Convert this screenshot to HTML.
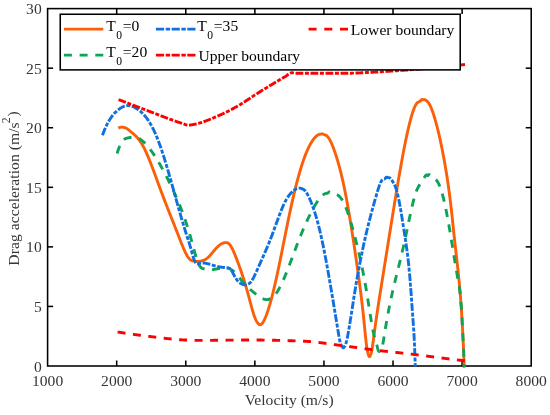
<!DOCTYPE html>
<html><head><meta charset="utf-8"><title>Drag acceleration vs velocity</title>
<style>
html,body{margin:0;padding:0;background:#fff;}
svg{display:block;font-family:"Liberation Serif","Times New Roman",serif;font-size:15.6px;}
</style></head>
<body>
<svg width="550" height="415" viewBox="0 0 550 415">
<rect width="550" height="415" fill="#fff"/>
<rect x="47.6" y="8.6" width="483.6" height="357.4" fill="none" stroke="#000" stroke-width="1.55"/>
<g stroke="#000" stroke-width="1.55">
<line x1="116.69" y1="366.0" x2="116.69" y2="360.5"/>
<line x1="116.69" y1="8.6" x2="116.69" y2="14.1"/>
<line x1="185.77" y1="366.0" x2="185.77" y2="360.5"/>
<line x1="185.77" y1="8.6" x2="185.77" y2="14.1"/>
<line x1="254.86" y1="366.0" x2="254.86" y2="360.5"/>
<line x1="254.86" y1="8.6" x2="254.86" y2="14.1"/>
<line x1="323.94" y1="366.0" x2="323.94" y2="360.5"/>
<line x1="323.94" y1="8.6" x2="323.94" y2="14.1"/>
<line x1="393.03" y1="366.0" x2="393.03" y2="360.5"/>
<line x1="393.03" y1="8.6" x2="393.03" y2="14.1"/>
<line x1="462.11" y1="366.0" x2="462.11" y2="360.5"/>
<line x1="462.11" y1="8.6" x2="462.11" y2="14.1"/>
<line x1="47.6" y1="306.43" x2="53.1" y2="306.43"/>
<line x1="531.2" y1="306.43" x2="525.7" y2="306.43"/>
<line x1="47.6" y1="246.87" x2="53.1" y2="246.87"/>
<line x1="531.2" y1="246.87" x2="525.7" y2="246.87"/>
<line x1="47.6" y1="187.30" x2="53.1" y2="187.30"/>
<line x1="531.2" y1="187.30" x2="525.7" y2="187.30"/>
<line x1="47.6" y1="127.73" x2="53.1" y2="127.73"/>
<line x1="531.2" y1="127.73" x2="525.7" y2="127.73"/>
<line x1="47.6" y1="68.17" x2="53.1" y2="68.17"/>
<line x1="531.2" y1="68.17" x2="525.7" y2="68.17"/>
</g>
<g>
<path d="M118.40,128.19 L118.78,127.96 L119.17,127.75 L119.55,127.56 L119.94,127.41 L120.32,127.28 L120.71,127.19 L121.09,127.14 L121.48,127.11 L121.86,127.09 L122.25,127.08 L122.63,127.09 L123.02,127.12 L123.40,127.22 L123.79,127.38 L124.17,127.54 L124.55,127.66 L124.94,127.75 L125.32,127.84 L125.71,127.96 L126.09,128.13 L126.48,128.34 L126.86,128.59 L127.25,128.86 L127.63,129.16 L128.02,129.46 L128.40,129.77 L128.79,130.07 L129.17,130.38 L129.55,130.68 L129.94,130.98 L130.32,131.29 L130.71,131.59 L131.09,131.90 L131.48,132.20 L131.86,132.52 L132.25,132.83 L132.63,133.15 L133.02,133.48 L133.40,133.81 L133.79,134.15 L134.17,134.49 L134.56,134.85 L134.94,135.21 L135.32,135.58 L135.71,135.96 L136.09,136.35 L136.48,136.76 L136.86,137.17 L137.25,137.60 L137.63,138.04 L138.02,138.50 L138.40,138.97 L138.79,139.45 L139.17,139.95 L139.56,140.47 L139.94,141.01 L140.33,141.56 L140.71,142.13 L141.09,142.72 L141.48,143.34 L141.86,143.97 L142.25,144.62 L142.63,145.30 L143.02,145.99 L143.40,146.70 L143.79,147.43 L144.17,148.18 L144.56,148.95 L144.94,149.74 L145.33,150.54 L145.71,151.36 L146.09,152.19 L146.48,153.04 L146.86,153.90 L147.25,154.78 L147.63,155.67 L148.02,156.57 L148.40,157.49 L148.79,158.42 L149.17,159.36 L149.56,160.31 L149.94,161.27 L150.33,162.24 L150.71,163.22 L151.10,164.21 L151.48,165.21 L151.86,166.21 L152.25,167.22 L152.63,168.24 L153.02,169.27 L153.40,170.30 L153.79,171.33 L154.17,172.37 L154.56,173.41 L154.94,174.46 L155.33,175.51 L155.71,176.56 L156.10,177.62 L156.48,178.67 L156.86,179.73 L157.25,180.79 L157.63,181.84 L158.02,182.90 L158.40,183.95 L158.79,185.01 L159.17,186.06 L159.56,187.10 L159.94,188.15 L160.33,189.19 L160.71,190.22 L161.10,191.25 L161.48,192.28 L161.87,193.30 L162.25,194.32 L162.63,195.34 L163.02,196.35 L163.40,197.36 L163.79,198.36 L164.17,199.37 L164.56,200.36 L164.94,201.36 L165.33,202.35 L165.71,203.35 L166.10,204.33 L166.48,205.32 L166.87,206.31 L167.25,207.29 L167.64,208.27 L168.02,209.25 L168.40,210.22 L168.79,211.20 L169.17,212.17 L169.56,213.15 L169.94,214.12 L170.33,215.09 L170.71,216.06 L171.10,217.03 L171.48,218.00 L171.87,218.97 L172.25,219.94 L172.64,220.91 L173.02,221.88 L173.40,222.85 L173.79,223.82 L174.17,224.79 L174.56,225.76 L174.94,226.73 L175.33,227.71 L175.71,228.68 L176.10,229.65 L176.48,230.63 L176.87,231.61 L177.25,232.59 L177.64,233.57 L178.02,234.55 L178.41,235.54 L178.79,236.53 L179.17,237.52 L179.56,238.51 L179.94,239.50 L180.33,240.49 L180.71,241.47 L181.10,242.44 L181.48,243.41 L181.87,244.37 L182.25,245.32 L182.64,246.26 L183.02,247.18 L183.41,248.09 L183.79,248.97 L184.18,249.84 L184.56,250.69 L184.94,251.52 L185.33,252.32 L185.71,253.09 L186.10,253.84 L186.48,254.56 L186.87,255.25 L187.25,255.90 L187.64,256.52 L188.02,257.11 L188.41,257.66 L188.79,258.17 L189.18,258.63 L189.56,259.06 L189.94,259.44 L190.33,259.77 L190.71,260.06 L191.10,260.30 L191.48,260.49 L191.87,260.62 L192.25,260.70 L192.64,260.73 L193.02,260.73 L193.41,260.71 L193.79,260.70 L194.18,260.72 L194.56,260.81 L194.95,260.97 L195.33,261.20 L195.71,261.43 L196.10,261.59 L196.48,261.62 L196.87,261.53 L197.25,261.43 L197.64,261.41 L198.02,261.45 L198.41,261.49 L198.79,261.49 L199.18,261.46 L199.56,261.41 L199.95,261.34 L200.33,261.26 L200.72,261.16 L201.10,261.06 L201.48,260.95 L201.87,260.84 L202.25,260.72 L202.64,260.59 L203.02,260.46 L203.41,260.32 L203.79,260.17 L204.18,260.01 L204.56,259.84 L204.95,259.65 L205.33,259.44 L205.72,259.22 L206.10,258.98 L206.48,258.71 L206.87,258.42 L207.25,258.12 L207.64,257.79 L208.02,257.44 L208.41,257.08 L208.79,256.70 L209.18,256.31 L209.56,255.91 L209.95,255.49 L210.33,255.06 L210.72,254.63 L211.10,254.19 L211.49,253.74 L211.87,253.28 L212.25,252.83 L212.64,252.37 L213.02,251.91 L213.41,251.45 L213.79,250.99 L214.18,250.54 L214.56,250.09 L214.95,249.64 L215.33,249.21 L215.72,248.78 L216.10,248.36 L216.49,247.95 L216.87,247.55 L217.25,247.17 L217.64,246.79 L218.02,246.43 L218.41,246.08 L218.79,245.75 L219.18,245.43 L219.56,245.13 L219.95,244.84 L220.33,244.57 L220.72,244.32 L221.10,244.08 L221.49,243.86 L221.87,243.65 L222.26,243.47 L222.64,243.29 L223.02,243.14 L223.41,242.99 L223.79,242.86 L224.18,242.76 L224.56,242.68 L224.95,242.63 L225.33,242.61 L225.72,242.59 L226.10,242.58 L226.49,242.59 L226.87,242.64 L227.26,242.74 L227.64,242.89 L228.03,243.09 L228.41,243.35 L228.79,243.66 L229.18,244.02 L229.56,244.44 L229.95,244.91 L230.33,245.43 L230.72,246.00 L231.10,246.61 L231.49,247.27 L231.87,247.97 L232.26,248.71 L232.64,249.49 L233.03,250.30 L233.41,251.13 L233.79,252.00 L234.18,252.89 L234.56,253.81 L234.95,254.74 L235.33,255.69 L235.72,256.66 L236.10,257.64 L236.49,258.63 L236.87,259.63 L237.26,260.64 L237.64,261.66 L238.03,262.69 L238.41,263.72 L238.80,264.77 L239.18,265.83 L239.56,266.90 L239.95,267.98 L240.33,269.07 L240.72,270.18 L241.10,271.29 L241.49,272.42 L241.87,273.57 L242.26,274.72 L242.64,275.89 L243.03,277.07 L243.41,278.27 L243.80,279.48 L244.18,280.71 L244.57,281.95 L244.95,283.21 L245.33,284.48 L245.72,285.77 L246.10,287.08 L246.49,288.40 L246.87,289.74 L247.26,291.09 L247.64,292.47 L248.03,293.86 L248.41,295.27 L248.80,296.70 L249.18,298.14 L249.57,299.59 L249.95,301.05 L250.33,302.50 L250.72,303.95 L251.10,305.38 L251.49,306.80 L251.87,308.19 L252.26,309.55 L252.64,310.88 L253.03,312.17 L253.41,313.41 L253.80,314.60 L254.18,315.74 L254.57,316.81 L254.95,317.82 L255.34,318.75 L255.72,319.61 L256.10,320.39 L256.49,321.12 L256.87,321.78 L257.26,322.38 L257.64,322.94 L258.03,323.45 L258.41,323.90 L258.80,324.28 L259.18,324.55 L259.57,324.69 L259.95,324.72 L260.34,324.67 L260.72,324.56 L261.11,324.38 L261.49,324.12 L261.87,323.77 L262.26,323.34 L262.64,322.83 L263.03,322.26 L263.41,321.62 L263.80,320.93 L264.18,320.18 L264.57,319.38 L264.95,318.53 L265.34,317.64 L265.72,316.71 L266.11,315.74 L266.49,314.73 L266.87,313.69 L267.26,312.61 L267.64,311.49 L268.03,310.34 L268.41,309.16 L268.80,307.94 L269.18,306.69 L269.57,305.41 L269.95,304.09 L270.34,302.75 L270.72,301.37 L271.11,299.96 L271.49,298.53 L271.88,297.07 L272.26,295.58 L272.64,294.06 L273.03,292.52 L273.41,290.96 L273.80,289.36 L274.18,287.75 L274.57,286.11 L274.95,284.45 L275.34,282.77 L275.72,281.06 L276.11,279.34 L276.49,277.60 L276.88,275.84 L277.26,274.06 L277.64,272.26 L278.03,270.45 L278.41,268.63 L278.80,266.79 L279.18,264.94 L279.57,263.07 L279.95,261.20 L280.34,259.32 L280.72,257.43 L281.11,255.53 L281.49,253.62 L281.88,251.71 L282.26,249.79 L282.65,247.87 L283.03,245.95 L283.41,244.03 L283.80,242.10 L284.18,240.17 L284.57,238.25 L284.95,236.33 L285.34,234.41 L285.72,232.49 L286.11,230.58 L286.49,228.67 L286.88,226.77 L287.26,224.88 L287.65,223.00 L288.03,221.13 L288.42,219.26 L288.80,217.41 L289.18,215.57 L289.57,213.75 L289.95,211.94 L290.34,210.14 L290.72,208.37 L291.11,206.61 L291.49,204.86 L291.88,203.14 L292.26,201.43 L292.65,199.74 L293.03,198.07 L293.42,196.41 L293.80,194.78 L294.18,193.16 L294.57,191.56 L294.95,189.98 L295.34,188.42 L295.72,186.88 L296.11,185.36 L296.49,183.86 L296.88,182.38 L297.26,180.92 L297.65,179.48 L298.03,178.06 L298.42,176.66 L298.80,175.28 L299.19,173.92 L299.57,172.58 L299.95,171.26 L300.34,169.97 L300.72,168.69 L301.11,167.44 L301.49,166.21 L301.88,165.00 L302.26,163.81 L302.65,162.65 L303.03,161.50 L303.42,160.38 L303.80,159.28 L304.19,158.21 L304.57,157.16 L304.96,156.13 L305.34,155.12 L305.72,154.14 L306.11,153.18 L306.49,152.25 L306.88,151.33 L307.26,150.45 L307.65,149.58 L308.03,148.74 L308.42,147.92 L308.80,147.13 L309.19,146.36 L309.57,145.61 L309.96,144.88 L310.34,144.18 L310.72,143.50 L311.11,142.85 L311.49,142.21 L311.88,141.60 L312.26,141.01 L312.65,140.45 L313.03,139.90 L313.42,139.38 L313.80,138.88 L314.19,138.40 L314.57,137.95 L314.96,137.52 L315.34,137.11 L315.73,136.72 L316.11,136.35 L316.49,136.00 L316.88,135.68 L317.26,135.39 L317.65,135.12 L318.03,134.89 L318.42,134.69 L318.80,134.53 L319.19,134.41 L319.57,134.32 L319.96,134.25 L320.34,134.19 L320.73,134.13 L321.11,134.06 L321.49,133.96 L321.88,133.86 L322.26,133.85 L322.65,133.95 L323.03,134.12 L323.42,134.32 L323.80,134.51 L324.19,134.67 L324.57,134.79 L324.96,134.90 L325.34,135.03 L325.73,135.17 L326.11,135.35 L326.50,135.59 L326.88,135.89 L327.26,136.25 L327.65,136.66 L328.03,137.12 L328.42,137.63 L328.80,138.20 L329.19,138.81 L329.57,139.46 L329.96,140.16 L330.34,140.90 L330.73,141.68 L331.11,142.50 L331.50,143.35 L331.88,144.23 L332.27,145.15 L332.65,146.10 L333.03,147.07 L333.42,148.07 L333.80,149.09 L334.19,150.14 L334.57,151.21 L334.96,152.31 L335.34,153.44 L335.73,154.59 L336.11,155.77 L336.50,156.98 L336.88,158.21 L337.27,159.47 L337.65,160.76 L338.03,162.08 L338.42,163.43 L338.80,164.81 L339.19,166.22 L339.57,167.66 L339.96,169.12 L340.34,170.62 L340.73,172.15 L341.11,173.72 L341.50,175.31 L341.88,176.94 L342.27,178.60 L342.65,180.29 L343.04,182.01 L343.42,183.77 L343.80,185.56 L344.19,187.39 L344.57,189.25 L344.96,191.15 L345.34,193.09 L345.73,195.05 L346.11,197.06 L346.50,199.09 L346.88,201.16 L347.27,203.27 L347.65,205.40 L348.04,207.57 L348.42,209.76 L348.81,211.99 L349.19,214.25 L349.57,216.53 L349.96,218.84 L350.34,221.18 L350.73,223.54 L351.11,225.93 L351.50,228.34 L351.88,230.78 L352.27,233.24 L352.65,235.72 L353.04,238.23 L353.42,240.75 L353.81,243.30 L354.19,245.87 L354.57,248.45 L354.96,251.05 L355.34,253.67 L355.73,256.31 L356.11,258.96 L356.50,261.63 L356.88,264.31 L357.27,267.01 L357.65,269.72 L358.04,272.45 L358.42,275.20 L358.81,277.99 L359.19,280.81 L359.58,283.67 L359.96,286.58 L360.34,289.55 L360.73,292.56 L361.11,295.65 L361.50,298.80 L361.88,302.02 L362.27,305.33 L362.65,308.72 L363.04,312.20 L363.42,315.77 L363.81,319.45 L364.19,323.23 L364.58,327.11 L364.96,331.02 L365.35,334.86 L365.73,338.55 L366.11,341.99 L366.50,345.10 L366.88,347.80 L367.27,350.06 L367.65,351.95 L368.04,353.55 L368.42,354.92 L368.81,355.99 L369.19,356.61 L369.58,356.66 L369.96,356.24 L370.35,355.52 L370.73,354.56 L371.11,353.34 L371.50,351.82 L371.88,349.94 L372.27,347.74 L372.65,345.25 L373.04,342.56 L373.42,339.73 L373.81,336.81 L374.19,333.88 L374.58,330.99 L374.96,328.15 L375.35,325.35 L375.73,322.60 L376.12,319.88 L376.50,317.21 L376.88,314.57 L377.27,311.96 L377.65,309.38 L378.04,306.84 L378.42,304.31 L378.81,301.82 L379.19,299.34 L379.58,296.88 L379.96,294.44 L380.35,292.01 L380.73,289.59 L381.12,287.18 L381.50,284.78 L381.88,282.38 L382.27,279.98 L382.65,277.58 L383.04,275.18 L383.42,272.78 L383.81,270.37 L384.19,267.96 L384.58,265.55 L384.96,263.13 L385.35,260.72 L385.73,258.30 L386.12,255.88 L386.50,253.47 L386.89,251.05 L387.27,248.63 L387.65,246.21 L388.04,243.80 L388.42,241.38 L388.81,238.97 L389.19,236.56 L389.58,234.15 L389.96,231.74 L390.35,229.34 L390.73,226.93 L391.12,224.54 L391.50,222.14 L391.89,219.75 L392.27,217.36 L392.66,214.98 L393.04,212.61 L393.42,210.23 L393.81,207.87 L394.19,205.51 L394.58,203.16 L394.96,200.81 L395.35,198.47 L395.73,196.13 L396.12,193.81 L396.50,191.49 L396.89,189.18 L397.27,186.88 L397.66,184.59 L398.04,182.31 L398.42,180.05 L398.81,177.80 L399.19,175.56 L399.58,173.33 L399.96,171.12 L400.35,168.93 L400.73,166.75 L401.12,164.59 L401.50,162.45 L401.89,160.33 L402.27,158.23 L402.66,156.16 L403.04,154.10 L403.43,152.07 L403.81,150.06 L404.19,148.07 L404.58,146.11 L404.96,144.18 L405.35,142.27 L405.73,140.39 L406.12,138.54 L406.50,136.72 L406.89,134.93 L407.27,133.17 L407.66,131.44 L408.04,129.75 L408.43,128.09 L408.81,126.46 L409.20,124.87 L409.58,123.32 L409.96,121.80 L410.35,120.32 L410.73,118.88 L411.12,117.49 L411.50,116.14 L411.89,114.84 L412.27,113.59 L412.66,112.39 L413.04,111.25 L413.43,110.16 L413.81,109.13 L414.20,108.16 L414.58,107.25 L414.96,106.41 L415.35,105.63 L415.73,104.92 L416.12,104.28 L416.50,103.71 L416.89,103.22 L417.27,102.80 L417.66,102.46 L418.04,102.20 L418.43,102.01 L418.81,101.86 L419.20,101.72 L419.58,101.55 L419.97,101.32 L420.35,101.00 L420.73,100.57 L421.12,100.11 L421.50,99.72 L421.89,99.52 L422.27,99.56 L422.66,99.70 L423.04,99.75 L423.43,99.65 L423.81,99.54 L424.20,99.53 L424.58,99.65 L424.97,99.84 L425.35,100.07 L425.74,100.30 L426.12,100.54 L426.50,100.79 L426.89,101.06 L427.27,101.37 L427.66,101.74 L428.04,102.16 L428.43,102.65 L428.81,103.21 L429.20,103.83 L429.58,104.51 L429.97,105.25 L430.35,106.05 L430.74,106.89 L431.12,107.79 L431.50,108.74 L431.89,109.73 L432.27,110.77 L432.66,111.85 L433.04,112.96 L433.43,114.11 L433.81,115.29 L434.20,116.51 L434.58,117.77 L434.97,119.05 L435.35,120.37 L435.74,121.73 L436.12,123.12 L436.51,124.54 L436.89,126.00 L437.27,127.49 L437.66,129.01 L438.04,130.57 L438.43,132.16 L438.81,133.79 L439.20,135.45 L439.58,137.14 L439.97,138.87 L440.35,140.63 L440.74,142.42 L441.12,144.25 L441.51,146.11 L441.89,148.01 L442.27,149.94 L442.66,151.90 L443.04,153.90 L443.43,155.93 L443.81,157.99 L444.20,160.09 L444.58,162.22 L444.97,164.40 L445.35,166.63 L445.74,168.90 L446.12,171.22 L446.51,173.60 L446.89,176.04 L447.28,178.54 L447.66,181.11 L448.04,183.74 L448.43,186.44 L448.81,189.22 L449.20,192.08 L449.58,195.01 L449.97,198.03 L450.35,201.14 L450.74,204.34 L451.12,207.63 L451.51,211.02 L451.89,214.51 L452.28,218.11 L452.66,221.77 L453.05,225.48 L453.43,229.18 L453.81,232.84 L454.20,236.43 L454.58,239.94 L454.97,243.40 L455.35,246.81 L455.74,250.19 L456.12,253.56 L456.51,256.94 L456.89,260.34 L457.28,263.77 L457.66,267.26 L458.05,270.81 L458.20,272.26 L458.23,272.55 L458.26,272.83 L458.29,273.12 L458.32,273.41 L458.35,273.70 L458.38,273.98 L458.41,274.27 L458.43,274.46 L458.44,274.56 L458.47,274.85 L458.50,275.14 L458.53,275.44 L458.56,275.73 L458.59,276.02 L458.62,276.32 L458.65,276.61 L458.68,276.91 L458.71,277.21 L458.74,277.51 L458.77,277.81 L458.80,278.11 L458.81,278.22 L458.83,278.41 L458.86,278.71 L458.89,279.01 L458.92,279.32 L458.95,279.62 L458.98,279.93 L459.01,280.24 L459.04,280.55 L459.07,280.86 L459.10,281.17 L459.13,281.48 L459.16,281.79 L459.19,282.11 L459.20,282.15 L459.23,282.42 L459.26,282.74 L459.29,283.06 L459.32,283.38 L459.35,283.70 L459.38,284.02 L459.41,284.34 L459.44,284.67 L459.47,284.99 L459.50,285.32 L459.53,285.65 L459.56,285.98 L459.58,286.28 L459.59,286.31 L459.62,286.65 L459.65,286.98 L459.68,287.32 L459.71,287.66 L459.74,287.99 L459.77,288.34 L459.80,288.68 L459.83,289.02 L459.86,289.37 L459.89,289.71 L459.92,290.06 L459.95,290.41 L459.97,290.65 L459.98,290.77 L460.01,291.12 L460.04,291.48 L460.07,291.83 L460.10,292.19 L460.13,292.55 L460.16,292.92 L460.19,293.28 L460.22,293.65 L460.25,294.01 L460.28,294.38 L460.31,294.76 L460.34,295.13 L460.35,295.29 L460.37,295.51 L460.40,295.88 L460.43,296.26 L460.46,296.64 L460.49,297.03 L460.52,297.41 L460.55,297.80 L460.58,298.19 L460.61,298.58 L460.64,298.98 L460.67,299.37 L460.70,299.77 L460.73,300.17 L460.74,300.24 L460.76,300.57 L460.79,300.98 L460.82,301.38 L460.85,301.79 L460.88,302.20 L460.91,302.62 L460.94,303.03 L460.97,303.45 L461.00,303.87 L461.03,304.29 L461.06,304.71 L461.09,305.14 L461.12,305.55 L461.12,305.57 L461.15,306.00 L461.18,306.44 L461.22,306.87 L461.25,307.31 L461.28,307.75 L461.31,308.20 L461.34,308.64 L461.37,309.09 L461.40,309.54 L461.43,310.00 L461.46,310.46 L461.49,310.91 L461.51,311.24 L461.52,311.38 L461.55,311.84 L461.58,312.31 L461.61,312.78 L461.64,313.25 L461.67,313.72 L461.70,314.20 L461.73,314.68 L461.76,315.17 L461.79,315.65 L461.82,316.14 L461.85,316.64 L461.88,317.13 L461.89,317.36 L461.91,317.63 L461.94,318.13 L461.97,318.64 L462.00,319.14 L462.03,319.65 L462.06,320.17 L462.09,320.69 L462.12,321.21 L462.15,321.73 L462.18,322.26 L462.21,322.79 L462.24,323.32 L462.27,323.86 L462.28,323.97 L462.30,324.40 L462.33,324.95 L462.36,325.49 L462.39,326.04 L462.42,326.60 L462.45,327.16 L462.48,327.72 L462.51,328.29 L462.54,328.86 L462.57,329.43 L462.60,330.01 L462.63,330.59 L462.66,331.16 L462.66,331.17 L462.69,331.76 L462.72,332.36 L462.75,332.95 L462.78,333.55 L462.81,334.16 L462.84,334.77 L462.87,335.38 L462.90,336.00 L462.93,336.62 L462.96,337.25 L462.99,337.88 L463.02,338.51 L463.05,338.97 L463.05,339.15 L463.08,339.79 L463.11,340.44 L463.14,341.09 L463.17,341.75 L463.21,342.41 L463.24,343.07 L463.27,343.74 L463.30,344.42 L463.33,345.10 L463.36,345.78 L463.39,346.47 L463.42,347.16 L463.43,347.50 L463.45,347.86 L463.48,348.56 L463.51,349.26 L463.54,349.97 L463.57,350.68 L463.60,351.40 L463.63,352.12 L463.66,352.85 L463.69,353.57 L463.72,354.31 L463.75,355.04 L463.78,355.78 L463.81,356.52 L463.82,356.70 L463.84,357.27 L463.87,358.02 L463.90,358.77 L463.93,359.52 L463.96,360.28 L463.99,361.04 L464.02,361.81 L464.05,362.57 L464.08,363.34 L464.11,364.11 L464.14,364.89 L464.17,365.66 L464.20,366.44" stroke="#fb5f08" stroke-width="2.9" fill="none" stroke-linejoin="round"/>
<path d="M117.10,153.51 L117.49,152.21 L117.87,150.98 L118.26,149.82 L118.64,148.73 L119.03,147.69 L119.42,146.71 L119.80,145.79 L120.19,144.92 L120.57,144.11 L120.96,143.36 L121.35,142.68 L121.73,142.05 L122.12,141.49 L122.51,140.98 L122.89,140.52 L123.28,140.12 L123.66,139.76 L124.05,139.44 L124.44,139.16 L124.82,138.92 L125.21,138.72 L125.59,138.55 L125.98,138.40 L126.37,138.28 L126.75,138.17 L127.14,138.08 L127.52,138.00 L127.91,137.92 L128.30,137.84 L128.68,137.76 L129.07,137.68 L129.46,137.61 L129.84,137.54 L130.23,137.49 L130.61,137.44 L131.00,137.41 L131.39,137.38 L131.77,137.35 L132.16,137.32 L132.54,137.28 L132.93,137.27 L133.32,137.29 L133.70,137.35 L134.09,137.40 L134.47,137.43 L134.86,137.42 L135.25,137.42 L135.63,137.42 L136.02,137.46 L136.40,137.53 L136.79,137.63 L137.18,137.75 L137.56,137.90 L137.95,138.06 L138.34,138.23 L138.72,138.42 L139.11,138.63 L139.49,138.84 L139.88,139.07 L140.27,139.31 L140.65,139.57 L141.04,139.84 L141.42,140.12 L141.81,140.41 L142.20,140.71 L142.58,141.03 L142.97,141.36 L143.35,141.70 L143.74,142.05 L144.13,142.41 L144.51,142.78 L144.90,143.16 L145.28,143.56 L145.67,143.96 L146.06,144.37 L146.44,144.80 L146.83,145.23 L147.22,145.67 L147.60,146.12 L147.99,146.58 L148.37,147.05 L148.76,147.53 L149.15,148.01 L149.53,148.51 L149.92,149.01 L150.30,149.52 L150.69,150.04 L151.08,150.57 L151.46,151.10 L151.85,151.64 L152.23,152.19 L152.62,152.74 L153.01,153.30 L153.39,153.87 L153.78,154.44 L154.17,155.02 L154.55,155.61 L154.94,156.20 L155.32,156.80 L155.71,157.40 L156.10,158.01 L156.48,158.63 L156.87,159.25 L157.25,159.88 L157.64,160.51 L158.03,161.15 L158.41,161.80 L158.80,162.45 L159.18,163.11 L159.57,163.77 L159.96,164.44 L160.34,165.12 L160.73,165.80 L161.11,166.48 L161.50,167.17 L161.89,167.87 L162.27,168.57 L162.66,169.27 L163.05,169.98 L163.43,170.70 L163.82,171.42 L164.20,172.15 L164.59,172.88 L164.98,173.61 L165.36,174.36 L165.75,175.10 L166.13,175.85 L166.52,176.61 L166.91,177.36 L167.29,178.13 L167.68,178.90 L168.06,179.67 L168.45,180.45 L168.84,181.23 L169.22,182.01 L169.61,182.80 L170.00,183.59 L170.38,184.39 L170.77,185.19 L171.15,186.00 L171.54,186.81 L171.93,187.62 L172.31,188.44 L172.70,189.26 L173.08,190.08 L173.47,190.91 L173.86,191.75 L174.24,192.59 L174.63,193.44 L175.01,194.29 L175.40,195.15 L175.79,196.01 L176.17,196.88 L176.56,197.76 L176.94,198.65 L177.33,199.54 L177.72,200.45 L178.10,201.36 L178.49,202.28 L178.88,203.21 L179.26,204.15 L179.65,205.10 L180.03,206.05 L180.42,207.02 L180.81,208.00 L181.19,208.99 L181.58,209.99 L181.96,211.01 L182.35,212.03 L182.74,213.07 L183.12,214.12 L183.51,215.18 L183.89,216.26 L184.28,217.35 L184.67,218.45 L185.05,219.57 L185.44,220.70 L185.83,221.85 L186.21,223.01 L186.60,224.19 L186.98,225.38 L187.37,226.59 L187.76,227.81 L188.14,229.05 L188.53,230.31 L188.91,231.59 L189.30,232.88 L189.69,234.19 L190.07,235.52 L190.46,236.87 L190.84,238.24 L191.23,239.62 L191.62,241.03 L192.00,242.45 L192.39,243.88 L192.77,245.31 L193.16,246.74 L193.55,248.17 L193.93,249.58 L194.32,250.98 L194.71,252.36 L195.09,253.70 L195.48,255.02 L195.86,256.29 L196.25,257.52 L196.64,258.71 L197.02,259.83 L197.41,260.90 L197.79,261.91 L198.18,262.85 L198.57,263.72 L198.95,264.53 L199.34,265.26 L199.72,265.93 L200.11,266.51 L200.50,267.02 L200.88,267.45 L201.27,267.80 L201.65,268.08 L202.04,268.29 L202.43,268.45 L202.81,268.57 L203.20,268.66 L203.59,268.73 L203.97,268.80 L204.36,268.87 L204.74,268.95 L205.13,269.07 L205.52,269.21 L205.90,269.37 L206.29,269.54 L206.67,269.70 L207.06,269.83 L207.45,269.94 L207.83,269.99 L208.22,269.99 L208.60,269.93 L208.99,269.83 L209.38,269.76 L209.76,269.73 L210.15,269.78 L210.54,269.84 L210.92,269.84 L211.31,269.79 L211.69,269.71 L212.08,269.65 L212.47,269.61 L212.85,269.57 L213.24,269.53 L213.62,269.48 L214.01,269.43 L214.40,269.36 L214.78,269.30 L215.17,269.23 L215.55,269.16 L215.94,269.09 L216.33,269.02 L216.71,268.95 L217.10,268.88 L217.48,268.81 L217.87,268.74 L218.26,268.67 L218.64,268.60 L219.03,268.52 L219.42,268.45 L219.80,268.38 L220.19,268.32 L220.57,268.25 L220.96,268.19 L221.35,268.13 L221.73,268.07 L222.12,268.02 L222.50,267.97 L222.89,267.93 L223.28,267.89 L223.66,267.86 L224.05,267.83 L224.43,267.82 L224.82,267.81 L225.21,267.81 L225.59,267.83 L225.98,267.85 L226.37,267.88 L226.75,267.93 L227.14,267.98 L227.52,268.05 L227.91,268.14 L228.30,268.23 L228.68,268.35 L229.07,268.48 L229.45,268.63 L229.84,268.79 L230.23,268.97 L230.61,269.18 L231.00,269.40 L231.38,269.64 L231.77,269.91 L232.16,270.19 L232.54,270.48 L232.93,270.80 L233.31,271.12 L233.70,271.46 L234.09,271.81 L234.47,272.18 L234.86,272.56 L235.25,272.95 L235.63,273.35 L236.02,273.77 L236.40,274.19 L236.79,274.63 L237.18,275.07 L237.56,275.52 L237.95,275.98 L238.33,276.44 L238.72,276.91 L239.11,277.38 L239.49,277.85 L239.88,278.33 L240.26,278.81 L240.65,279.28 L241.04,279.76 L241.42,280.24 L241.81,280.71 L242.19,281.18 L242.58,281.65 L242.97,282.11 L243.35,282.56 L243.74,283.01 L244.13,283.45 L244.51,283.88 L244.90,284.31 L245.28,284.72 L245.67,285.13 L246.06,285.53 L246.44,285.93 L246.83,286.31 L247.21,286.69 L247.60,287.07 L247.99,287.44 L248.37,287.80 L248.76,288.15 L249.14,288.50 L249.53,288.85 L249.92,289.19 L250.30,289.53 L250.69,289.86 L251.08,290.19 L251.46,290.51 L251.85,290.83 L252.23,291.15 L252.62,291.46 L253.01,291.77 L253.39,292.08 L253.78,292.38 L254.16,292.69 L254.55,292.99 L254.94,293.29 L255.32,293.58 L255.71,293.88 L256.09,294.18 L256.48,294.47 L256.87,294.76 L257.25,295.05 L257.64,295.34 L258.02,295.62 L258.41,295.89 L258.80,296.17 L259.18,296.43 L259.57,296.69 L259.96,296.95 L260.34,297.19 L260.73,297.43 L261.11,297.66 L261.50,297.88 L261.89,298.09 L262.27,298.29 L262.66,298.48 L263.04,298.66 L263.43,298.83 L263.82,298.98 L264.20,299.13 L264.59,299.26 L264.97,299.38 L265.36,299.48 L265.75,299.55 L266.13,299.59 L266.52,299.58 L266.91,299.56 L267.29,299.56 L267.68,299.58 L268.06,299.57 L268.45,299.48 L268.84,299.30 L269.22,299.08 L269.61,298.84 L269.99,298.62 L270.38,298.41 L270.77,298.21 L271.15,298.02 L271.54,297.82 L271.92,297.60 L272.31,297.36 L272.70,297.09 L273.08,296.78 L273.47,296.45 L273.85,296.09 L274.24,295.70 L274.63,295.29 L275.01,294.84 L275.40,294.37 L275.79,293.88 L276.17,293.36 L276.56,292.81 L276.94,292.24 L277.33,291.65 L277.72,291.04 L278.10,290.40 L278.49,289.74 L278.87,289.07 L279.26,288.37 L279.65,287.65 L280.03,286.92 L280.42,286.17 L280.80,285.40 L281.19,284.61 L281.58,283.81 L281.96,282.99 L282.35,282.16 L282.74,281.31 L283.12,280.45 L283.51,279.58 L283.89,278.70 L284.28,277.80 L284.67,276.90 L285.05,275.98 L285.44,275.05 L285.82,274.11 L286.21,273.17 L286.60,272.21 L286.98,271.25 L287.37,270.27 L287.75,269.29 L288.14,268.31 L288.53,267.32 L288.91,266.32 L289.30,265.31 L289.68,264.30 L290.07,263.29 L290.46,262.27 L290.84,261.25 L291.23,260.23 L291.62,259.20 L292.00,258.17 L292.39,257.14 L292.77,256.11 L293.16,255.07 L293.55,254.04 L293.93,253.01 L294.32,251.98 L294.70,250.95 L295.09,249.92 L295.48,248.89 L295.86,247.87 L296.25,246.84 L296.63,245.83 L297.02,244.81 L297.41,243.81 L297.79,242.80 L298.18,241.80 L298.56,240.81 L298.95,239.83 L299.34,238.85 L299.72,237.88 L300.11,236.91 L300.50,235.95 L300.88,235.00 L301.27,234.06 L301.65,233.12 L302.04,232.19 L302.43,231.27 L302.81,230.35 L303.20,229.45 L303.58,228.55 L303.97,227.65 L304.36,226.77 L304.74,225.89 L305.13,225.02 L305.51,224.15 L305.90,223.30 L306.29,222.45 L306.67,221.61 L307.06,220.77 L307.45,219.95 L307.83,219.13 L308.22,218.32 L308.60,217.52 L308.99,216.72 L309.38,215.93 L309.76,215.16 L310.15,214.38 L310.53,213.62 L310.92,212.87 L311.31,212.12 L311.69,211.38 L312.08,210.65 L312.46,209.93 L312.85,209.21 L313.24,208.50 L313.62,207.81 L314.01,207.12 L314.39,206.44 L314.78,205.76 L315.17,205.10 L315.55,204.44 L315.94,203.80 L316.33,203.17 L316.71,202.54 L317.10,201.94 L317.48,201.34 L317.87,200.76 L318.26,200.20 L318.64,199.65 L319.03,199.12 L319.41,198.61 L319.80,198.11 L320.19,197.64 L320.57,197.19 L320.96,196.76 L321.34,196.35 L321.73,195.96 L322.12,195.60 L322.50,195.26 L322.89,194.95 L323.28,194.67 L323.66,194.41 L324.05,194.18 L324.43,193.98 L324.82,193.82 L325.21,193.68 L325.59,193.57 L325.98,193.49 L326.36,193.42 L326.75,193.35 L327.14,193.25 L327.52,193.10 L327.91,192.90 L328.29,192.62 L328.68,192.32 L329.07,192.06 L329.45,191.91 L329.84,191.92 L330.22,192.03 L330.61,192.10 L331.00,192.09 L331.38,192.05 L331.77,192.04 L332.16,192.10 L332.54,192.20 L332.93,192.33 L333.31,192.49 L333.70,192.66 L334.09,192.84 L334.47,193.04 L334.86,193.25 L335.24,193.46 L335.63,193.69 L336.02,193.91 L336.40,194.15 L336.79,194.40 L337.17,194.65 L337.56,194.92 L337.95,195.21 L338.33,195.51 L338.72,195.84 L339.11,196.18 L339.49,196.55 L339.88,196.94 L340.26,197.36 L340.65,197.81 L341.04,198.29 L341.42,198.80 L341.81,199.34 L342.19,199.93 L342.58,200.55 L342.97,201.21 L343.35,201.92 L343.74,202.66 L344.12,203.44 L344.51,204.26 L344.90,205.12 L345.28,206.01 L345.67,206.94 L346.05,207.90 L346.44,208.89 L346.83,209.92 L347.21,210.98 L347.60,212.06 L347.99,213.18 L348.37,214.33 L348.76,215.50 L349.14,216.70 L349.53,217.92 L349.92,219.17 L350.30,220.44 L350.69,221.73 L351.07,223.05 L351.46,224.38 L351.85,225.74 L352.23,227.11 L352.62,228.50 L353.00,229.91 L353.39,231.33 L353.78,232.77 L354.16,234.22 L354.55,235.68 L354.93,237.16 L355.32,238.64 L355.71,240.14 L356.09,241.65 L356.48,243.18 L356.87,244.72 L357.25,246.28 L357.64,247.85 L358.02,249.44 L358.41,251.05 L358.80,252.69 L359.18,254.34 L359.57,256.02 L359.95,257.72 L360.34,259.44 L360.73,261.19 L361.11,262.97 L361.50,264.78 L361.88,266.61 L362.27,268.48 L362.66,270.38 L363.04,272.31 L363.43,274.28 L363.82,276.28 L364.20,278.31 L364.59,280.38 L364.97,282.49 L365.36,284.64 L365.75,286.84 L366.13,289.07 L366.52,291.34 L366.90,293.66 L367.29,296.02 L367.68,298.43 L368.06,300.87 L368.45,303.32 L368.83,305.80 L369.22,308.27 L369.61,310.74 L369.99,313.18 L370.38,315.60 L370.76,317.98 L371.15,320.32 L371.54,322.59 L371.92,324.80 L372.31,326.92 L372.70,328.96 L373.08,330.90 L373.47,332.73 L373.85,334.44 L374.24,336.03 L374.63,337.47 L375.01,338.80 L375.40,340.07 L375.78,341.31 L376.17,342.58 L376.56,343.93 L376.94,345.40 L377.33,346.99 L377.71,348.55 L378.10,349.92 L378.49,350.91 L378.87,351.43 L379.26,351.51 L379.65,351.22 L380.03,350.70 L380.42,350.15 L380.80,349.70 L381.19,349.25 L381.58,348.63 L381.96,347.69 L382.35,346.31 L382.73,344.57 L383.12,342.52 L383.51,340.26 L383.89,337.87 L384.28,335.42 L384.66,332.98 L385.05,330.59 L385.44,328.25 L385.82,325.95 L386.21,323.69 L386.59,321.47 L386.98,319.30 L387.37,317.16 L387.75,315.06 L388.14,313.00 L388.53,310.98 L388.91,308.99 L389.30,307.03 L389.68,305.11 L390.07,303.22 L390.46,301.36 L390.84,299.53 L391.23,297.73 L391.61,295.96 L392.00,294.21 L392.39,292.48 L392.77,290.79 L393.16,289.11 L393.54,287.45 L393.93,285.81 L394.32,284.19 L394.70,282.58 L395.09,280.98 L395.47,279.40 L395.86,277.83 L396.25,276.27 L396.63,274.71 L397.02,273.16 L397.41,271.61 L397.79,270.07 L398.18,268.52 L398.56,266.98 L398.95,265.43 L399.34,263.88 L399.72,262.32 L400.11,260.75 L400.49,259.18 L400.88,257.59 L401.27,255.99 L401.65,254.38 L402.04,252.76 L402.42,251.11 L402.81,249.45 L403.20,247.76 L403.58,246.06 L403.97,244.33 L404.36,242.57 L404.74,240.79 L405.13,238.99 L405.51,237.17 L405.90,235.33 L406.29,233.48 L406.67,231.63 L407.06,229.76 L407.44,227.89 L407.83,226.03 L408.22,224.16 L408.60,222.31 L408.99,220.46 L409.37,218.62 L409.76,216.81 L410.15,215.01 L410.53,213.23 L410.92,211.48 L411.30,209.75 L411.69,208.06 L412.08,206.40 L412.46,204.79 L412.85,203.21 L413.24,201.67 L413.62,200.19 L414.01,198.75 L414.39,197.37 L414.78,196.05 L415.17,194.78 L415.55,193.58 L415.94,192.45 L416.32,191.38 L416.71,190.39 L417.10,189.47 L417.48,188.61 L417.87,187.82 L418.25,187.08 L418.64,186.39 L419.03,185.74 L419.41,185.13 L419.80,184.54 L420.19,183.98 L420.57,183.43 L420.96,182.89 L421.34,182.36 L421.73,181.83 L422.12,181.28 L422.50,180.72 L422.89,180.14 L423.27,179.53 L423.66,178.88 L424.05,178.20 L424.43,177.48 L424.82,176.77 L425.20,176.11 L425.59,175.57 L425.98,175.17 L426.36,174.98 L426.75,175.03 L427.13,175.24 L427.52,175.44 L427.91,175.48 L428.29,175.22 L428.68,174.81 L429.07,174.56 L429.45,174.63 L429.84,174.86 L430.22,175.08 L430.61,175.20 L431.00,175.29 L431.38,175.38 L431.77,175.53 L432.15,175.73 L432.54,175.99 L432.93,176.30 L433.31,176.64 L433.70,177.01 L434.08,177.39 L434.47,177.79 L434.86,178.20 L435.24,178.63 L435.63,179.07 L436.02,179.55 L436.40,180.05 L436.79,180.58 L437.17,181.15 L437.56,181.76 L437.95,182.42 L438.33,183.12 L438.72,183.87 L439.10,184.67 L439.49,185.54 L439.88,186.46 L440.26,187.45 L440.65,188.51 L441.03,189.65 L441.42,190.85 L441.81,192.12 L442.19,193.45 L442.58,194.86 L442.96,196.32 L443.35,197.84 L443.74,199.43 L444.12,201.07 L444.51,202.76 L444.90,204.51 L445.28,206.31 L445.67,208.15 L446.05,210.05 L446.44,211.98 L446.83,213.96 L447.21,215.98 L447.60,218.04 L447.98,220.14 L448.37,222.27 L448.76,224.44 L449.14,226.63 L449.53,228.86 L449.91,231.11 L450.30,233.39 L450.69,235.69 L451.07,238.01 L451.46,240.35 L451.84,242.70 L452.23,245.07 L452.62,247.46 L453.00,249.85 L453.39,252.24 L453.78,254.64 L454.16,257.03 L454.55,259.41 L454.93,261.78 L455.32,264.13 L455.71,266.46 L456.09,268.76 L456.48,271.04 L456.86,273.28 L457.25,275.48 L457.64,277.64 L458.02,279.76 L458.20,280.72 L458.23,280.88 L458.26,281.04 L458.29,281.21 L458.32,281.37 L458.35,281.53 L458.38,281.70 L458.41,281.85 L458.41,281.86 L458.44,282.03 L458.47,282.19 L458.50,282.36 L458.53,282.52 L458.56,282.69 L458.59,282.86 L458.62,283.03 L458.65,283.19 L458.68,283.36 L458.71,283.53 L458.74,283.71 L458.77,283.88 L458.79,284.00 L458.80,284.05 L458.83,284.23 L458.86,284.40 L458.89,284.58 L458.92,284.76 L458.95,284.94 L458.98,285.12 L459.01,285.30 L459.04,285.48 L459.07,285.67 L459.10,285.86 L459.13,286.04 L459.16,286.23 L459.18,286.34 L459.19,286.43 L459.23,286.62 L459.26,286.82 L459.29,287.01 L459.32,287.21 L459.35,287.41 L459.38,287.62 L459.41,287.82 L459.44,288.03 L459.47,288.24 L459.50,288.45 L459.53,288.66 L459.56,288.88 L459.57,288.95 L459.59,289.10 L459.62,289.32 L459.65,289.55 L459.68,289.77 L459.71,290.00 L459.74,290.23 L459.77,290.47 L459.80,290.70 L459.83,290.94 L459.86,291.19 L459.89,291.43 L459.92,291.68 L459.95,291.93 L459.95,291.97 L459.98,292.19 L460.01,292.45 L460.04,292.71 L460.07,292.97 L460.10,293.24 L460.13,293.51 L460.16,293.78 L460.19,294.06 L460.22,294.34 L460.25,294.63 L460.28,294.92 L460.31,295.21 L460.34,295.49 L460.34,295.50 L460.37,295.80 L460.40,296.11 L460.43,296.41 L460.46,296.73 L460.49,297.04 L460.52,297.36 L460.55,297.68 L460.58,298.01 L460.61,298.34 L460.64,298.68 L460.67,299.02 L460.70,299.36 L460.73,299.62 L460.73,299.71 L460.76,300.06 L460.79,300.42 L460.82,300.78 L460.85,301.15 L460.88,301.52 L460.91,301.90 L460.94,302.28 L460.97,302.67 L461.00,303.06 L461.03,303.45 L461.06,303.85 L461.09,304.26 L461.11,304.49 L461.12,304.67 L461.15,305.08 L461.18,305.51 L461.22,305.93 L461.25,306.36 L461.28,306.80 L461.31,307.24 L461.34,307.69 L461.37,308.14 L461.40,308.60 L461.43,309.06 L461.46,309.53 L461.49,310.01 L461.50,310.18 L461.52,310.49 L461.55,310.98 L461.58,311.47 L461.61,311.97 L461.64,312.47 L461.67,312.98 L461.70,313.49 L461.73,314.01 L461.76,314.53 L461.79,315.06 L461.82,315.60 L461.85,316.13 L461.88,316.67 L461.88,316.76 L461.91,317.22 L461.94,317.77 L461.97,318.32 L462.00,318.88 L462.03,319.44 L462.06,320.00 L462.09,320.57 L462.12,321.14 L462.15,321.72 L462.18,322.29 L462.21,322.87 L462.24,323.45 L462.27,324.02 L462.27,324.04 L462.30,324.63 L462.33,325.22 L462.36,325.81 L462.39,326.40 L462.42,327.00 L462.45,327.60 L462.48,328.20 L462.51,328.80 L462.54,329.40 L462.57,330.01 L462.60,330.61 L462.63,331.22 L462.66,331.69 L462.66,331.83 L462.69,332.44 L462.72,333.05 L462.75,333.66 L462.78,334.27 L462.81,334.88 L462.84,335.49 L462.87,336.10 L462.90,336.71 L462.93,337.32 L462.96,337.93 L462.99,338.54 L463.02,339.15 L463.04,339.51 L463.05,339.76 L463.08,340.37 L463.11,340.97 L463.14,341.58 L463.17,342.18 L463.21,342.79 L463.24,343.39 L463.27,343.99 L463.30,344.59 L463.33,345.18 L463.36,345.78 L463.39,346.38 L463.42,346.97 L463.43,347.21 L463.45,347.58 L463.48,348.18 L463.51,348.79 L463.54,349.41 L463.57,350.04 L463.60,350.68 L463.63,351.33 L463.66,352.00 L463.69,352.67 L463.72,353.37 L463.75,354.07 L463.78,354.80 L463.81,355.55 L463.81,355.70 L463.84,356.32 L463.87,357.11 L463.90,357.92 L463.93,358.76 L463.96,359.63 L463.99,360.52 L464.02,361.44 L464.05,362.40 L464.08,363.38 L464.11,364.40 L464.14,365.45 L464.17,366.54 L464.20,367.66" stroke="#0fa35a" stroke-width="2.9" fill="none" stroke-dasharray="8.1 7.57" stroke-linejoin="round"/>
<path d="M102.50,135.21 L102.85,134.24 L103.20,133.29 L103.54,132.36 L103.89,131.46 L104.24,130.59 L104.59,129.73 L104.94,128.91 L105.28,128.10 L105.63,127.32 L105.98,126.55 L106.33,125.81 L106.68,125.09 L107.02,124.39 L107.37,123.71 L107.72,123.05 L108.07,122.40 L108.42,121.78 L108.76,121.17 L109.11,120.58 L109.46,120.01 L109.81,119.45 L110.15,118.91 L110.50,118.38 L110.85,117.87 L111.20,117.37 L111.55,116.88 L111.89,116.41 L112.24,115.95 L112.59,115.51 L112.94,115.08 L113.29,114.65 L113.63,114.25 L113.98,113.85 L114.33,113.46 L114.68,113.09 L115.03,112.72 L115.37,112.37 L115.72,112.02 L116.07,111.69 L116.42,111.36 L116.77,111.05 L117.11,110.74 L117.46,110.44 L117.81,110.15 L118.16,109.87 L118.51,109.59 L118.85,109.33 L119.20,109.06 L119.55,108.81 L119.90,108.56 L120.25,108.32 L120.59,108.09 L120.94,107.87 L121.29,107.65 L121.64,107.45 L121.98,107.25 L122.33,107.07 L122.68,106.90 L123.03,106.74 L123.38,106.59 L123.72,106.45 L124.07,106.33 L124.42,106.21 L124.77,106.11 L125.12,106.01 L125.46,105.92 L125.81,105.84 L126.16,105.77 L126.51,105.71 L126.86,105.66 L127.20,105.61 L127.55,105.59 L127.90,105.59 L128.25,105.61 L128.60,105.65 L128.94,105.68 L129.29,105.69 L129.64,105.71 L129.99,105.72 L130.34,105.76 L130.68,105.82 L131.03,105.91 L131.38,106.01 L131.73,106.13 L132.08,106.26 L132.42,106.41 L132.77,106.56 L133.12,106.72 L133.47,106.88 L133.81,107.05 L134.16,107.22 L134.51,107.40 L134.86,107.58 L135.21,107.77 L135.55,107.96 L135.90,108.17 L136.25,108.37 L136.60,108.59 L136.95,108.81 L137.29,109.03 L137.64,109.26 L137.99,109.50 L138.34,109.75 L138.69,110.00 L139.03,110.27 L139.38,110.53 L139.73,110.81 L140.08,111.09 L140.43,111.39 L140.77,111.69 L141.12,112.00 L141.47,112.31 L141.82,112.64 L142.17,112.97 L142.51,113.31 L142.86,113.67 L143.21,114.03 L143.56,114.40 L143.91,114.78 L144.25,115.17 L144.60,115.57 L144.95,115.97 L145.30,116.39 L145.64,116.82 L145.99,117.26 L146.34,117.71 L146.69,118.17 L147.04,118.65 L147.38,119.13 L147.73,119.62 L148.08,120.13 L148.43,120.65 L148.78,121.17 L149.12,121.71 L149.47,122.27 L149.82,122.83 L150.17,123.41 L150.52,124.00 L150.86,124.60 L151.21,125.21 L151.56,125.84 L151.91,126.48 L152.26,127.13 L152.60,127.80 L152.95,128.48 L153.30,129.17 L153.65,129.88 L154.00,130.60 L154.34,131.34 L154.69,132.09 L155.04,132.85 L155.39,133.63 L155.74,134.42 L156.08,135.23 L156.43,136.05 L156.78,136.89 L157.13,137.75 L157.47,138.62 L157.82,139.50 L158.17,140.40 L158.52,141.31 L158.87,142.24 L159.21,143.18 L159.56,144.13 L159.91,145.10 L160.26,146.08 L160.61,147.07 L160.95,148.08 L161.30,149.09 L161.65,150.12 L162.00,151.16 L162.35,152.21 L162.69,153.27 L163.04,154.35 L163.39,155.43 L163.74,156.52 L164.09,157.62 L164.43,158.73 L164.78,159.85 L165.13,160.98 L165.48,162.12 L165.83,163.26 L166.17,164.41 L166.52,165.57 L166.87,166.74 L167.22,167.92 L167.57,169.10 L167.91,170.28 L168.26,171.47 L168.61,172.67 L168.96,173.88 L169.30,175.09 L169.65,176.30 L170.00,177.52 L170.35,178.74 L170.70,179.96 L171.04,181.19 L171.39,182.43 L171.74,183.66 L172.09,184.90 L172.44,186.14 L172.78,187.38 L173.13,188.63 L173.48,189.87 L173.83,191.12 L174.18,192.36 L174.52,193.61 L174.87,194.86 L175.22,196.11 L175.57,197.36 L175.92,198.60 L176.26,199.85 L176.61,201.09 L176.96,202.34 L177.31,203.58 L177.66,204.82 L178.00,206.06 L178.35,207.29 L178.70,208.52 L179.05,209.75 L179.40,210.97 L179.74,212.19 L180.09,213.41 L180.44,214.62 L180.79,215.82 L181.13,217.02 L181.48,218.22 L181.83,219.41 L182.18,220.59 L182.53,221.77 L182.87,222.94 L183.22,224.10 L183.57,225.26 L183.92,226.41 L184.27,227.55 L184.61,228.68 L184.96,229.81 L185.31,230.92 L185.66,232.03 L186.01,233.13 L186.35,234.21 L186.70,235.29 L187.05,236.37 L187.40,237.44 L187.75,238.51 L188.09,239.59 L188.44,240.68 L188.79,241.77 L189.14,242.88 L189.49,244.00 L189.83,245.14 L190.18,246.30 L190.53,247.48 L190.88,248.69 L191.23,249.93 L191.57,251.19 L191.92,252.46 L192.27,253.72 L192.62,254.95 L192.96,256.15 L193.31,257.29 L193.66,258.37 L194.01,259.36 L194.36,260.26 L194.70,261.06 L195.05,261.76 L195.40,262.36 L195.75,262.86 L196.10,263.26 L196.44,263.55 L196.79,263.74 L197.14,263.84 L197.49,263.87 L197.84,263.83 L198.18,263.76 L198.53,263.65 L198.88,263.54 L199.23,263.43 L199.58,263.34 L199.92,263.26 L200.27,263.18 L200.62,263.12 L200.97,263.07 L201.32,263.03 L201.66,262.99 L202.01,262.97 L202.36,262.96 L202.71,262.95 L203.06,262.96 L203.40,262.97 L203.75,262.99 L204.10,263.02 L204.45,263.05 L204.79,263.09 L205.14,263.14 L205.49,263.20 L205.84,263.26 L206.19,263.32 L206.53,263.39 L206.88,263.47 L207.23,263.55 L207.58,263.63 L207.93,263.72 L208.27,263.81 L208.62,263.91 L208.97,264.01 L209.32,264.11 L209.67,264.21 L210.01,264.32 L210.36,264.42 L210.71,264.53 L211.06,264.64 L211.41,264.75 L211.75,264.86 L212.10,264.97 L212.45,265.08 L212.80,265.19 L213.15,265.30 L213.49,265.41 L213.84,265.52 L214.19,265.62 L214.54,265.72 L214.89,265.82 L215.23,265.92 L215.58,266.01 L215.93,266.10 L216.28,266.19 L216.63,266.27 L216.97,266.36 L217.32,266.44 L217.67,266.51 L218.02,266.58 L218.36,266.66 L218.71,266.72 L219.06,266.79 L219.41,266.85 L219.76,266.91 L220.10,266.97 L220.45,267.03 L220.80,267.08 L221.15,267.14 L221.50,267.19 L221.84,267.23 L222.19,267.28 L222.54,267.33 L222.89,267.37 L223.24,267.41 L223.58,267.45 L223.93,267.49 L224.28,267.53 L224.63,267.56 L224.98,267.60 L225.32,267.63 L225.67,267.67 L226.02,267.70 L226.37,267.73 L226.72,267.76 L227.06,267.79 L227.41,267.82 L227.76,267.85 L228.11,267.91 L228.46,267.98 L228.80,268.08 L229.15,268.22 L229.50,268.40 L229.85,268.64 L230.19,268.93 L230.54,269.28 L230.89,269.70 L231.24,270.18 L231.59,270.71 L231.93,271.29 L232.28,271.89 L232.63,272.53 L232.98,273.17 L233.33,273.83 L233.67,274.48 L234.02,275.13 L234.37,275.76 L234.72,276.39 L235.07,277.00 L235.41,277.59 L235.76,278.17 L236.11,278.72 L236.46,279.26 L236.81,279.77 L237.15,280.26 L237.50,280.72 L237.85,281.14 L238.20,281.54 L238.55,281.91 L238.89,282.23 L239.24,282.52 L239.59,282.77 L239.94,282.99 L240.29,283.18 L240.63,283.35 L240.98,283.50 L241.33,283.66 L241.68,283.81 L242.02,283.99 L242.37,284.17 L242.72,284.34 L243.07,284.48 L243.42,284.56 L243.76,284.59 L244.11,284.59 L244.46,284.64 L244.81,284.75 L245.16,284.87 L245.50,284.92 L245.85,284.89 L246.20,284.79 L246.55,284.65 L246.90,284.50 L247.24,284.36 L247.59,284.23 L247.94,284.09 L248.29,283.95 L248.64,283.79 L248.98,283.61 L249.33,283.38 L249.68,283.12 L250.03,282.81 L250.38,282.46 L250.72,282.07 L251.07,281.64 L251.42,281.17 L251.77,280.67 L252.12,280.14 L252.46,279.57 L252.81,278.98 L253.16,278.36 L253.51,277.72 L253.85,277.05 L254.20,276.36 L254.55,275.65 L254.90,274.93 L255.25,274.19 L255.59,273.44 L255.94,272.68 L256.29,271.91 L256.64,271.13 L256.99,270.34 L257.33,269.56 L257.68,268.77 L258.03,267.98 L258.38,267.19 L258.73,266.41 L259.07,265.63 L259.42,264.85 L259.77,264.07 L260.12,263.29 L260.47,262.51 L260.81,261.74 L261.16,260.96 L261.51,260.18 L261.86,259.41 L262.21,258.63 L262.55,257.85 L262.90,257.07 L263.25,256.29 L263.60,255.50 L263.95,254.72 L264.29,253.93 L264.64,253.14 L264.99,252.35 L265.34,251.55 L265.68,250.75 L266.03,249.94 L266.38,249.13 L266.73,248.32 L267.08,247.50 L267.42,246.68 L267.77,245.85 L268.12,245.02 L268.47,244.17 L268.82,243.33 L269.16,242.48 L269.51,241.62 L269.86,240.75 L270.21,239.88 L270.56,238.99 L270.90,238.10 L271.25,237.21 L271.60,236.30 L271.95,235.39 L272.30,234.46 L272.64,233.53 L272.99,232.60 L273.34,231.65 L273.69,230.71 L274.04,229.76 L274.38,228.80 L274.73,227.84 L275.08,226.88 L275.43,225.92 L275.78,224.96 L276.12,224.00 L276.47,223.04 L276.82,222.08 L277.17,221.13 L277.51,220.18 L277.86,219.23 L278.21,218.29 L278.56,217.35 L278.91,216.42 L279.25,215.50 L279.60,214.58 L279.95,213.68 L280.30,212.78 L280.65,211.90 L280.99,211.02 L281.34,210.16 L281.69,209.31 L282.04,208.47 L282.39,207.65 L282.73,206.84 L283.08,206.04 L283.43,205.27 L283.78,204.51 L284.13,203.77 L284.47,203.05 L284.82,202.34 L285.17,201.66 L285.52,201.00 L285.87,200.36 L286.21,199.73 L286.56,199.13 L286.91,198.55 L287.26,197.99 L287.61,197.44 L287.95,196.92 L288.30,196.41 L288.65,195.92 L289.00,195.45 L289.34,194.99 L289.69,194.55 L290.04,194.13 L290.39,193.72 L290.74,193.32 L291.08,192.94 L291.43,192.58 L291.78,192.23 L292.13,191.89 L292.48,191.57 L292.82,191.26 L293.17,190.96 L293.52,190.67 L293.87,190.39 L294.22,190.13 L294.56,189.88 L294.91,189.64 L295.26,189.42 L295.61,189.22 L295.96,189.03 L296.30,188.87 L296.65,188.72 L297.00,188.60 L297.35,188.50 L297.70,188.41 L298.04,188.35 L298.39,188.29 L298.74,188.23 L299.09,188.17 L299.44,188.11 L299.78,188.10 L300.13,188.14 L300.48,188.22 L300.83,188.34 L301.17,188.47 L301.52,188.60 L301.87,188.72 L302.22,188.85 L302.57,188.98 L302.91,189.13 L303.26,189.30 L303.61,189.50 L303.96,189.75 L304.31,190.03 L304.65,190.35 L305.00,190.72 L305.35,191.12 L305.70,191.56 L306.05,192.04 L306.39,192.55 L306.74,193.09 L307.09,193.66 L307.44,194.27 L307.79,194.90 L308.13,195.56 L308.48,196.25 L308.83,196.96 L309.18,197.70 L309.53,198.45 L309.87,199.23 L310.22,200.03 L310.57,200.85 L310.92,201.69 L311.27,202.55 L311.61,203.42 L311.96,204.32 L312.31,205.24 L312.66,206.19 L313.01,207.15 L313.35,208.13 L313.70,209.14 L314.05,210.17 L314.40,211.22 L314.74,212.29 L315.09,213.39 L315.44,214.51 L315.79,215.65 L316.14,216.82 L316.48,218.01 L316.83,219.22 L317.18,220.46 L317.53,221.72 L317.88,223.01 L318.22,224.32 L318.57,225.66 L318.92,227.02 L319.27,228.41 L319.62,229.83 L319.96,231.27 L320.31,232.74 L320.66,234.23 L321.01,235.75 L321.36,237.30 L321.70,238.88 L322.05,240.48 L322.40,242.11 L322.75,243.76 L323.10,245.43 L323.44,247.13 L323.79,248.85 L324.14,250.60 L324.49,252.36 L324.84,254.15 L325.18,255.95 L325.53,257.78 L325.88,259.62 L326.23,261.48 L326.57,263.36 L326.92,265.26 L327.27,267.17 L327.62,269.10 L327.97,271.04 L328.31,273.00 L328.66,274.97 L329.01,276.95 L329.36,278.94 L329.71,280.95 L330.05,282.97 L330.40,285.00 L330.75,287.03 L331.10,289.08 L331.45,291.13 L331.79,293.19 L332.14,295.26 L332.49,297.34 L332.84,299.42 L333.19,301.50 L333.53,303.59 L333.88,305.69 L334.23,307.78 L334.58,309.88 L334.93,311.99 L335.27,314.09 L335.62,316.20 L335.97,318.31 L336.32,320.41 L336.67,322.52 L337.01,324.63 L337.36,326.73 L337.71,328.84 L338.06,330.94 L338.40,333.04 L338.75,335.12 L339.10,337.13 L339.45,339.04 L339.80,340.79 L340.14,342.34 L340.49,343.64 L340.84,344.64 L341.19,345.34 L341.54,345.82 L341.88,346.21 L342.23,346.60 L342.58,347.08 L342.93,347.55 L343.28,347.80 L343.62,347.68 L343.97,347.28 L344.32,346.74 L344.67,346.17 L345.02,345.55 L345.36,344.84 L345.71,343.98 L346.06,342.93 L346.41,341.69 L346.76,340.28 L347.10,338.72 L347.45,337.03 L347.80,335.24 L348.15,333.36 L348.50,331.42 L348.84,329.43 L349.19,327.39 L349.54,325.31 L349.89,323.19 L350.23,321.04 L350.58,318.86 L350.93,316.66 L351.28,314.43 L351.63,312.20 L351.97,309.95 L352.32,307.70 L352.67,305.45 L353.02,303.20 L353.37,300.96 L353.71,298.73 L354.06,296.52 L354.41,294.34 L354.76,292.17 L355.11,290.04 L355.45,287.93 L355.80,285.84 L356.15,283.78 L356.50,281.75 L356.85,279.74 L357.19,277.75 L357.54,275.78 L357.89,273.84 L358.24,271.93 L358.59,270.03 L358.93,268.16 L359.28,266.31 L359.63,264.48 L359.98,262.67 L360.33,260.88 L360.67,259.12 L361.02,257.37 L361.37,255.65 L361.72,253.94 L362.06,252.25 L362.41,250.58 L362.76,248.93 L363.11,247.30 L363.46,245.69 L363.80,244.09 L364.15,242.52 L364.50,240.95 L364.85,239.41 L365.20,237.88 L365.54,236.37 L365.89,234.87 L366.24,233.39 L366.59,231.92 L366.94,230.47 L367.28,229.03 L367.63,227.61 L367.98,226.20 L368.33,224.80 L368.68,223.42 L369.02,222.04 L369.37,220.68 L369.72,219.33 L370.07,217.99 L370.42,216.67 L370.76,215.35 L371.11,214.04 L371.46,212.74 L371.81,211.45 L372.16,210.17 L372.50,208.90 L372.85,207.64 L373.20,206.38 L373.55,205.14 L373.89,203.89 L374.24,202.66 L374.59,201.43 L374.94,200.21 L375.29,198.99 L375.63,197.78 L375.98,196.57 L376.33,195.37 L376.68,194.17 L377.03,192.98 L377.37,191.80 L377.72,190.64 L378.07,189.50 L378.42,188.40 L378.77,187.33 L379.11,186.30 L379.46,185.32 L379.81,184.39 L380.16,183.52 L380.51,182.72 L380.85,181.99 L381.20,181.34 L381.55,180.77 L381.90,180.29 L382.25,179.91 L382.59,179.62 L382.94,179.44 L383.29,179.34 L383.64,179.27 L383.99,179.20 L384.33,179.11 L384.68,178.96 L385.03,178.70 L385.38,178.33 L385.72,177.89 L386.07,177.48 L386.42,177.20 L386.77,177.13 L387.12,177.25 L387.46,177.44 L387.81,177.58 L388.16,177.64 L388.51,177.65 L388.86,177.68 L389.20,177.73 L389.55,177.84 L389.90,178.00 L390.25,178.24 L390.60,178.56 L390.94,178.95 L391.29,179.40 L391.64,179.89 L391.99,180.42 L392.34,180.98 L392.68,181.55 L393.03,182.14 L393.38,182.74 L393.73,183.37 L394.08,184.03 L394.42,184.73 L394.77,185.47 L395.12,186.27 L395.47,187.14 L395.82,188.07 L396.16,189.08 L396.51,190.18 L396.86,191.37 L397.21,192.66 L397.55,194.04 L397.90,195.50 L398.25,197.05 L398.60,198.67 L398.95,200.37 L399.29,202.14 L399.64,203.97 L399.99,205.87 L400.34,207.81 L400.69,209.81 L401.03,211.86 L401.38,213.94 L401.73,216.07 L402.08,218.23 L402.43,220.41 L402.77,222.62 L403.12,224.85 L403.47,227.09 L403.82,229.34 L404.17,231.60 L404.51,233.85 L404.86,236.11 L405.21,238.36 L405.56,240.61 L405.91,242.89 L406.25,245.23 L406.60,247.66 L406.95,250.18 L407.30,252.81 L407.65,255.58 L407.99,258.49 L408.34,261.57 L408.69,264.83 L409.04,268.28 L409.30,271.04 L409.33,271.36 L409.36,271.69 L409.38,271.95 L409.39,272.01 L409.42,272.34 L409.45,272.67 L409.48,273.01 L409.51,273.34 L409.54,273.68 L409.57,274.01 L409.60,274.35 L409.63,274.69 L409.66,275.04 L409.69,275.38 L409.72,275.73 L409.73,275.85 L409.75,276.08 L409.78,276.43 L409.81,276.78 L409.84,277.14 L409.87,277.49 L409.90,277.85 L409.93,278.21 L409.96,278.57 L409.99,278.94 L410.02,279.30 L410.05,279.67 L410.08,280.00 L410.08,280.04 L410.11,280.41 L410.14,280.79 L410.17,281.16 L410.20,281.54 L410.23,281.92 L410.26,282.30 L410.29,282.68 L410.33,283.07 L410.36,283.45 L410.39,283.84 L410.42,284.23 L410.43,284.40 L410.45,284.62 L410.48,285.01 L410.51,285.40 L410.54,285.80 L410.57,286.19 L410.60,286.59 L410.63,286.99 L410.66,287.39 L410.69,287.79 L410.72,288.19 L410.75,288.59 L410.78,288.99 L410.78,289.00 L410.81,289.41 L410.84,289.81 L410.87,290.22 L410.90,290.63 L410.93,291.04 L410.96,291.45 L410.99,291.86 L411.02,292.28 L411.05,292.69 L411.08,293.10 L411.11,293.52 L411.12,293.74 L411.14,293.94 L411.17,294.35 L411.20,294.77 L411.23,295.19 L411.26,295.61 L411.29,296.03 L411.32,296.45 L411.35,296.87 L411.38,297.29 L411.41,297.71 L411.44,298.14 L411.47,298.56 L411.47,298.58 L411.50,298.98 L411.53,299.40 L411.56,299.83 L411.59,300.25 L411.62,300.68 L411.65,301.10 L411.68,301.53 L411.71,301.95 L411.74,302.38 L411.77,302.80 L411.80,303.23 L411.82,303.48 L411.83,303.65 L411.86,304.08 L411.89,304.51 L411.92,304.93 L411.95,305.36 L411.98,305.78 L412.01,306.21 L412.04,306.63 L412.07,307.06 L412.10,307.48 L412.13,307.91 L412.16,308.33 L412.17,308.39 L412.19,308.75 L412.22,309.18 L412.25,309.60 L412.28,310.02 L412.32,310.45 L412.35,310.87 L412.38,311.29 L412.41,311.71 L412.44,312.13 L412.47,312.55 L412.50,312.97 L412.52,313.25 L412.53,313.39 L412.56,313.80 L412.59,314.22 L412.62,314.64 L412.65,315.05 L412.68,315.46 L412.71,315.88 L412.74,316.29 L412.77,316.70 L412.80,317.11 L412.83,317.52 L412.86,317.93 L412.86,318.02 L412.89,318.34 L412.92,318.74 L412.95,319.15 L412.98,319.55 L413.01,319.96 L413.04,320.36 L413.07,320.76 L413.10,321.16 L413.13,321.56 L413.16,321.96 L413.19,322.36 L413.21,322.67 L413.22,322.76 L413.25,323.17 L413.28,323.57 L413.31,323.98 L413.34,324.39 L413.37,324.80 L413.40,325.21 L413.43,325.63 L413.46,326.05 L413.49,326.47 L413.52,326.90 L413.55,327.33 L413.56,327.46 L413.58,327.76 L413.61,328.21 L413.64,328.65 L413.67,329.10 L413.70,329.56 L413.73,330.03 L413.76,330.50 L413.79,330.97 L413.82,331.46 L413.85,331.95 L413.88,332.45 L413.91,332.88 L413.91,332.96 L413.94,333.47 L413.97,334.00 L414.00,334.53 L414.03,335.08 L414.06,335.63 L414.09,336.19 L414.12,336.77 L414.15,337.35 L414.18,337.95 L414.21,338.55 L414.24,339.17 L414.26,339.41 L414.27,339.80 L414.31,340.44 L414.34,341.10 L414.37,341.77 L414.40,342.45 L414.43,343.14 L414.46,343.85 L414.49,344.57 L414.52,345.31 L414.55,346.06 L414.58,346.83 L414.60,347.55 L414.61,347.61 L414.64,348.41 L414.67,349.22 L414.70,350.05 L414.73,350.88 L414.76,351.72 L414.79,352.57 L414.82,353.43 L414.85,354.29 L414.88,355.15 L414.91,356.01 L414.94,356.87 L414.95,357.27 L414.97,357.73 L415.00,358.58 L415.03,359.43 L415.06,360.27 L415.09,361.10 L415.12,361.92 L415.15,362.73 L415.18,363.52 L415.21,364.29 L415.24,365.05 L415.27,365.79 L415.30,366.51" stroke="#1070e0" stroke-width="2.9" fill="none" stroke-dasharray="7.8 1.6 4.0 1.6" stroke-linejoin="round"/>
<path d="M118.60,99.60 L118.99,99.75 L119.37,99.90 L119.76,100.04 L120.14,100.19 L120.53,100.34 L120.91,100.49 L121.30,100.63 L121.68,100.78 L122.07,100.93 L122.45,101.08 L122.84,101.22 L123.22,101.37 L123.61,101.52 L123.99,101.67 L124.38,101.81 L124.77,101.96 L125.15,102.11 L125.54,102.26 L125.92,102.41 L126.31,102.55 L126.69,102.70 L127.08,102.85 L127.46,102.99 L127.85,103.14 L128.23,103.29 L128.62,103.44 L129.00,103.58 L129.39,103.73 L129.77,103.88 L130.16,104.03 L130.54,104.17 L130.93,104.32 L131.32,104.47 L131.70,104.62 L132.09,104.76 L132.47,104.91 L132.86,105.06 L133.24,105.21 L133.63,105.35 L134.01,105.50 L134.40,105.65 L134.78,105.79 L135.17,105.94 L135.55,106.09 L135.94,106.24 L136.32,106.38 L136.71,106.53 L137.10,106.68 L137.48,106.82 L137.87,106.97 L138.25,107.12 L138.64,107.27 L139.02,107.41 L139.41,107.56 L139.79,107.71 L140.18,107.85 L140.56,108.00 L140.95,108.15 L141.33,108.30 L141.72,108.44 L142.10,108.59 L142.49,108.74 L142.87,108.88 L143.26,109.03 L143.65,109.18 L144.03,109.32 L144.42,109.47 L144.80,109.62 L145.19,109.77 L145.57,109.91 L145.96,110.06 L146.34,110.21 L146.73,110.35 L147.11,110.50 L147.50,110.65 L147.88,110.79 L148.27,110.94 L148.65,111.09 L149.04,111.23 L149.43,111.38 L149.81,111.53 L150.20,111.67 L150.58,111.82 L150.97,111.97 L151.35,112.12 L151.74,112.26 L152.12,112.41 L152.51,112.56 L152.89,112.71 L153.28,112.86 L153.66,113.01 L154.05,113.15 L154.43,113.30 L154.82,113.45 L155.21,113.60 L155.59,113.75 L155.98,113.90 L156.36,114.05 L156.75,114.20 L157.13,114.34 L157.52,114.49 L157.90,114.64 L158.29,114.79 L158.67,114.94 L159.06,115.09 L159.44,115.24 L159.83,115.38 L160.21,115.53 L160.60,115.68 L160.98,115.83 L161.37,115.98 L161.76,116.12 L162.14,116.27 L162.53,116.42 L162.91,116.56 L163.30,116.71 L163.68,116.86 L164.07,117.00 L164.45,117.15 L164.84,117.29 L165.22,117.44 L165.61,117.58 L165.99,117.73 L166.38,117.87 L166.76,118.01 L167.15,118.16 L167.54,118.30 L167.92,118.44 L168.31,118.58 L168.69,118.72 L169.08,118.87 L169.46,119.01 L169.85,119.14 L170.23,119.28 L170.62,119.42 L171.00,119.56 L171.39,119.70 L171.77,119.84 L172.16,119.98 L172.54,120.12 L172.93,120.26 L173.32,120.40 L173.70,120.54 L174.09,120.67 L174.47,120.81 L174.86,120.95 L175.24,121.09 L175.63,121.22 L176.01,121.36 L176.40,121.50 L176.78,121.63 L177.17,121.77 L177.55,121.90 L177.94,122.03 L178.32,122.17 L178.71,122.30 L179.09,122.43 L179.48,122.56 L179.87,122.69 L180.25,122.82 L180.64,122.94 L181.02,123.07 L181.41,123.19 L181.79,123.32 L182.18,123.44 L182.56,123.56 L182.95,123.68 L183.33,123.81 L183.72,123.94 L184.10,124.09 L184.49,124.23 L184.87,124.38 L185.26,124.53 L185.65,124.67 L186.03,124.80 L186.42,124.92 L186.80,125.02 L187.19,125.10 L187.57,125.16 L187.96,125.19 L188.34,125.20 L188.73,125.19 L189.11,125.17 L189.50,125.13 L189.88,125.09 L190.27,125.04 L190.65,124.99 L191.04,124.93 L191.42,124.87 L191.81,124.80 L192.20,124.73 L192.58,124.67 L192.97,124.61 L193.35,124.54 L193.74,124.47 L194.12,124.40 L194.51,124.33 L194.89,124.25 L195.28,124.16 L195.66,124.08 L196.05,123.99 L196.43,123.90 L196.82,123.80 L197.20,123.70 L197.59,123.61 L197.98,123.50 L198.36,123.40 L198.75,123.30 L199.13,123.19 L199.52,123.08 L199.90,122.97 L200.29,122.86 L200.67,122.74 L201.06,122.62 L201.44,122.50 L201.83,122.37 L202.21,122.25 L202.60,122.12 L202.98,121.98 L203.37,121.85 L203.76,121.71 L204.14,121.57 L204.53,121.43 L204.91,121.29 L205.30,121.14 L205.68,121.00 L206.07,120.85 L206.45,120.70 L206.84,120.55 L207.22,120.40 L207.61,120.25 L207.99,120.09 L208.38,119.94 L208.76,119.78 L209.15,119.63 L209.53,119.47 L209.92,119.31 L210.31,119.15 L210.69,119.00 L211.08,118.84 L211.46,118.68 L211.85,118.52 L212.23,118.36 L212.62,118.20 L213.00,118.04 L213.39,117.89 L213.77,117.73 L214.16,117.57 L214.54,117.41 L214.93,117.25 L215.31,117.09 L215.70,116.93 L216.09,116.77 L216.47,116.61 L216.86,116.44 L217.24,116.28 L217.63,116.11 L218.01,115.95 L218.40,115.78 L218.78,115.61 L219.17,115.44 L219.55,115.27 L219.94,115.10 L220.32,114.93 L220.71,114.76 L221.09,114.58 L221.48,114.41 L221.86,114.23 L222.25,114.06 L222.64,113.88 L223.02,113.70 L223.41,113.52 L223.79,113.34 L224.18,113.16 L224.56,112.98 L224.95,112.79 L225.33,112.61 L225.72,112.42 L226.10,112.24 L226.49,112.05 L226.87,111.86 L227.26,111.67 L227.64,111.48 L228.03,111.29 L228.42,111.09 L228.80,110.90 L229.19,110.70 L229.57,110.50 L229.96,110.30 L230.34,110.10 L230.73,109.90 L231.11,109.69 L231.50,109.49 L231.88,109.28 L232.27,109.07 L232.65,108.86 L233.04,108.65 L233.42,108.43 L233.81,108.22 L234.20,108.01 L234.58,107.79 L234.97,107.57 L235.35,107.35 L235.74,107.13 L236.12,106.91 L236.51,106.69 L236.89,106.47 L237.28,106.24 L237.66,106.02 L238.05,105.79 L238.43,105.56 L238.82,105.34 L239.20,105.11 L239.59,104.88 L239.97,104.65 L240.36,104.42 L240.75,104.19 L241.13,103.95 L241.52,103.72 L241.90,103.49 L242.29,103.25 L242.67,103.02 L243.06,102.78 L243.44,102.54 L243.83,102.30 L244.21,102.05 L244.60,101.81 L244.98,101.56 L245.37,101.31 L245.75,101.05 L246.14,100.80 L246.53,100.54 L246.91,100.28 L247.30,100.03 L247.68,99.77 L248.07,99.50 L248.45,99.24 L248.84,98.98 L249.22,98.72 L249.61,98.46 L249.99,98.19 L250.38,97.93 L250.76,97.67 L251.15,97.41 L251.53,97.15 L251.92,96.89 L252.31,96.63 L252.69,96.37 L253.08,96.12 L253.46,95.86 L253.85,95.61 L254.23,95.36 L254.62,95.11 L255.00,94.86 L255.39,94.62 L255.77,94.37 L256.16,94.13 L256.54,93.88 L256.93,93.64 L257.31,93.40 L257.70,93.16 L258.08,92.91 L258.47,92.67 L258.86,92.43 L259.24,92.19 L259.63,91.95 L260.01,91.71 L260.40,91.47 L260.78,91.23 L261.17,90.99 L261.55,90.75 L261.94,90.51 L262.32,90.27 L262.71,90.04 L263.09,89.80 L263.48,89.56 L263.86,89.32 L264.25,89.09 L264.64,88.85 L265.02,88.62 L265.41,88.38 L265.79,88.14 L266.18,87.91 L266.56,87.67 L266.95,87.44 L267.33,87.21 L267.72,86.97 L268.10,86.74 L268.49,86.51 L268.87,86.27 L269.26,86.04 L269.64,85.81 L270.03,85.57 L270.41,85.34 L270.80,85.11 L271.19,84.88 L271.57,84.65 L271.96,84.42 L272.34,84.19 L272.73,83.95 L273.11,83.72 L273.50,83.49 L273.88,83.26 L274.27,83.03 L274.65,82.80 L275.04,82.58 L275.42,82.35 L275.81,82.12 L276.19,81.89 L276.58,81.66 L276.97,81.43 L277.35,81.20 L277.74,80.97 L278.12,80.75 L278.51,80.52 L278.89,80.29 L279.28,80.06 L279.66,79.84 L280.05,79.61 L280.43,79.38 L280.82,79.16 L281.20,78.93 L281.59,78.70 L281.97,78.48 L282.36,78.25 L282.75,78.02 L283.13,77.80 L283.52,77.57 L283.90,77.34 L284.29,77.12 L284.67,76.89 L285.06,76.67 L285.44,76.43 L285.83,76.17 L286.21,75.89 L286.60,75.61 L286.98,75.32 L287.37,75.02 L287.75,74.73 L288.14,74.44 L288.52,74.16 L288.91,73.90 L289.30,73.66 L289.68,73.43 L290.07,73.24 L290.45,73.07 L290.84,72.94 L291.22,72.85 L291.61,72.81 L291.99,72.80 L292.38,72.81 L292.76,72.83 L293.15,72.86 L293.53,72.90 L293.92,72.94 L294.30,72.98 L294.69,73.02 L295.08,73.07 L295.46,73.12 L295.85,73.16 L296.23,73.20 L296.62,73.24 L297.00,73.27 L297.39,73.29 L297.77,73.30 L298.16,73.30 L298.54,73.30 L298.93,73.30 L299.31,73.30 L299.70,73.30 L300.08,73.30 L300.47,73.30 L300.85,73.30 L301.24,73.30 L301.63,73.30 L302.01,73.30 L302.40,73.30 L302.78,73.30 L303.17,73.30 L303.55,73.30 L303.94,73.30 L304.32,73.30 L304.71,73.30 L305.09,73.30 L305.48,73.30 L305.86,73.30 L306.25,73.30 L306.63,73.30 L307.02,73.30 L307.41,73.30 L307.79,73.30 L308.18,73.30 L308.56,73.30 L308.95,73.30 L309.33,73.30 L309.72,73.30 L310.10,73.30 L310.49,73.30 L310.87,73.30 L311.26,73.29 L311.64,73.29 L312.03,73.29 L312.41,73.29 L312.80,73.29 L313.19,73.29 L313.57,73.29 L313.96,73.29 L314.34,73.29 L314.73,73.29 L315.11,73.29 L315.50,73.29 L315.88,73.29 L316.27,73.29 L316.65,73.29 L317.04,73.29 L317.42,73.29 L317.81,73.29 L318.19,73.29 L318.58,73.29 L318.96,73.29 L319.35,73.29 L319.74,73.29 L320.12,73.28 L320.51,73.28 L320.89,73.28 L321.28,73.28 L321.66,73.28 L322.05,73.28 L322.43,73.28 L322.82,73.28 L323.20,73.28 L323.59,73.28 L323.97,73.28 L324.36,73.28 L324.74,73.28 L325.13,73.28 L325.52,73.28 L325.90,73.28 L326.29,73.27 L326.67,73.27 L327.06,73.27 L327.44,73.27 L327.83,73.27 L328.21,73.27 L328.60,73.27 L328.98,73.27 L329.37,73.27 L329.75,73.27 L330.14,73.27 L330.52,73.27 L330.91,73.26 L331.29,73.26 L331.68,73.26 L332.07,73.26 L332.45,73.26 L332.84,73.26 L333.22,73.26 L333.61,73.26 L333.99,73.26 L334.38,73.26 L334.76,73.25 L335.15,73.25 L335.53,73.25 L335.92,73.25 L336.30,73.25 L336.69,73.25 L337.07,73.25 L337.46,73.25 L337.85,73.25 L338.23,73.24 L338.62,73.24 L339.00,73.24 L339.39,73.24 L339.77,73.24 L340.16,73.24 L340.54,73.24 L340.93,73.24 L341.31,73.23 L341.70,73.23 L342.08,73.23 L342.47,73.23 L342.85,73.23 L343.24,73.23 L343.63,73.23 L344.01,73.22 L344.40,73.22 L344.78,73.22 L345.17,73.22 L345.55,73.22 L345.94,73.22 L346.32,73.22 L346.71,73.21 L347.09,73.21 L347.48,73.21 L347.86,73.21 L348.25,73.21 L348.63,73.21 L349.02,73.20 L349.40,73.20 L349.79,73.20 L350.18,73.20 L350.56,73.20 L350.95,73.19 L351.33,73.19 L351.72,73.18 L352.10,73.17 L352.49,73.17 L352.87,73.16 L353.26,73.15 L353.64,73.13 L354.03,73.12 L354.41,73.11 L354.80,73.10 L355.18,73.08 L355.57,73.07 L355.96,73.05 L356.34,73.04 L356.73,73.02 L357.11,73.00 L357.50,72.98 L357.88,72.97 L358.27,72.95 L358.65,72.93 L359.04,72.91 L359.42,72.89 L359.81,72.87 L360.19,72.85 L360.58,72.83 L360.96,72.81 L361.35,72.79 L361.74,72.77 L362.12,72.75 L362.51,72.73 L362.89,72.71 L363.28,72.69 L363.66,72.67 L364.05,72.65 L364.43,72.63 L364.82,72.61 L365.20,72.59 L365.59,72.57 L365.97,72.55 L366.36,72.53 L366.74,72.51 L367.13,72.49 L367.51,72.47 L367.90,72.45 L368.29,72.43 L368.67,72.41 L369.06,72.39 L369.44,72.38 L369.83,72.35 L370.21,72.33 L370.60,72.31 L370.98,72.29 L371.37,72.27 L371.75,72.25 L372.14,72.23 L372.52,72.21 L372.91,72.19 L373.29,72.17 L373.68,72.15 L374.07,72.13 L374.45,72.11 L374.84,72.09 L375.22,72.07 L375.61,72.04 L375.99,72.02 L376.38,72.00 L376.76,71.98 L377.15,71.96 L377.53,71.94 L377.92,71.91 L378.30,71.89 L378.69,71.87 L379.07,71.85 L379.46,71.83 L379.84,71.80 L380.23,71.78 L380.62,71.76 L381.00,71.74 L381.39,71.71 L381.77,71.69 L382.16,71.67 L382.54,71.65 L382.93,71.62 L383.31,71.60 L383.70,71.58 L384.08,71.55 L384.47,71.53 L384.85,71.51 L385.24,71.48 L385.62,71.46 L386.01,71.44 L386.40,71.41 L386.78,71.39 L387.17,71.36 L387.55,71.34 L387.94,71.32 L388.32,71.29 L388.71,71.27 L389.09,71.24 L389.48,71.22 L389.86,71.19 L390.25,71.17 L390.63,71.15 L391.02,71.12 L391.40,71.10 L391.79,71.07 L392.18,71.05 L392.56,71.02 L392.95,71.00 L393.33,70.97 L393.72,70.94 L394.10,70.92 L394.49,70.89 L394.87,70.87 L395.26,70.84 L395.64,70.82 L396.03,70.79 L396.41,70.76 L396.80,70.74 L397.18,70.71 L397.57,70.68 L397.95,70.66 L398.34,70.63 L398.73,70.60 L399.11,70.58 L399.50,70.55 L399.88,70.52 L400.27,70.50 L400.65,70.47 L401.04,70.44 L401.42,70.42 L401.81,70.39 L402.19,70.36 L402.58,70.33 L402.96,70.30 L403.35,70.28 L403.73,70.25 L404.12,70.22 L404.51,70.19 L404.89,70.16 L405.28,70.14 L405.66,70.11 L406.05,70.08 L406.43,70.05 L406.82,70.02 L407.20,69.99 L407.59,69.96 L407.97,69.94 L408.36,69.91 L408.74,69.88 L409.13,69.85 L409.51,69.82 L409.90,69.79 L410.28,69.76 L410.67,69.73 L411.06,69.70 L411.44,69.67 L411.83,69.64 L412.21,69.61 L412.60,69.58 L412.98,69.55 L413.37,69.52 L413.75,69.49 L414.14,69.46 L414.52,69.43 L414.91,69.40 L415.29,69.37 L415.68,69.34 L416.06,69.30 L416.45,69.27 L416.84,69.24 L417.22,69.21 L417.61,69.18 L417.99,69.15 L418.38,69.12 L418.76,69.08 L419.15,69.05 L419.53,69.02 L419.92,68.99 L420.30,68.96 L420.69,68.92 L421.07,68.89 L421.46,68.86 L421.84,68.83 L422.23,68.79 L422.62,68.76 L423.00,68.73 L423.39,68.70 L423.77,68.66 L424.16,68.63 L424.54,68.60 L424.93,68.56 L425.31,68.53 L425.70,68.50 L426.08,68.46 L426.47,68.43 L426.85,68.39 L427.24,68.36 L427.62,68.33 L428.01,68.29 L428.39,68.26 L428.78,68.22 L429.17,68.19 L429.55,68.15 L429.94,68.12 L430.32,68.08 L430.71,68.05 L431.09,68.01 L431.48,67.98 L431.86,67.94 L432.25,67.91 L432.63,67.87 L433.02,67.84 L433.40,67.80 L433.79,67.77 L434.17,67.73 L434.56,67.69 L434.95,67.66 L435.33,67.62 L435.72,67.59 L436.10,67.55 L436.49,67.51 L436.87,67.48 L437.26,67.44 L437.64,67.40 L438.03,67.37 L438.41,67.33 L438.80,67.29 L439.18,67.25 L439.57,67.22 L439.95,67.18 L440.34,67.14 L440.73,67.10 L441.11,67.07 L441.50,67.03 L441.88,66.99 L442.27,66.95 L442.65,66.91 L443.04,66.87 L443.42,66.84 L443.81,66.80 L444.19,66.76 L444.58,66.72 L444.96,66.68 L445.35,66.64 L445.73,66.60 L446.12,66.56 L446.50,66.52 L446.89,66.48 L447.28,66.45 L447.66,66.41 L448.05,66.37 L448.43,66.33 L448.82,66.29 L449.20,66.25 L449.59,66.21 L449.97,66.16 L450.36,66.12 L450.74,66.08 L451.13,66.04 L451.51,66.00 L451.90,65.96 L452.28,65.92 L452.67,65.88 L453.06,65.84 L453.44,65.80 L453.83,65.75 L454.21,65.71 L454.60,65.67 L454.98,65.63 L455.37,65.59 L455.75,65.55 L456.14,65.50 L456.52,65.46 L456.91,65.42 L457.29,65.38 L457.68,65.33 L458.06,65.29 L458.45,65.25 L458.83,65.20 L459.22,65.16 L459.61,65.12 L459.99,65.07 L460.38,65.03 L460.76,64.99 L461.15,64.94 L461.53,64.90 L461.92,64.86 L462.30,64.81 L462.69,64.77 L463.07,64.72 L463.46,64.68 L463.84,64.63 L464.23,64.59 L464.61,64.54 L465.00,64.50" stroke="#f00" stroke-width="2.9" fill="none" stroke-dasharray="7.8 1.6 4.0 1.6" stroke-linejoin="round"/>
<path d="M117.60,332.00 L117.99,332.06 L118.37,332.12 L118.76,332.18 L119.14,332.24 L119.53,332.30 L119.92,332.36 L120.30,332.42 L120.69,332.48 L121.08,332.54 L121.46,332.60 L121.85,332.66 L122.23,332.72 L122.62,332.78 L123.01,332.84 L123.39,332.90 L123.78,332.96 L124.17,333.01 L124.55,333.07 L124.94,333.13 L125.32,333.19 L125.71,333.25 L126.10,333.30 L126.48,333.36 L126.87,333.42 L127.26,333.48 L127.64,333.53 L128.03,333.59 L128.41,333.65 L128.80,333.70 L129.19,333.76 L129.57,333.81 L129.96,333.87 L130.34,333.93 L130.73,333.98 L131.12,334.04 L131.50,334.09 L131.89,334.15 L132.28,334.20 L132.66,334.26 L133.05,334.31 L133.43,334.37 L133.82,334.42 L134.21,334.47 L134.59,334.53 L134.98,334.58 L135.37,334.63 L135.75,334.69 L136.14,334.74 L136.52,334.79 L136.91,334.84 L137.30,334.90 L137.68,334.95 L138.07,335.00 L138.46,335.05 L138.84,335.10 L139.23,335.16 L139.61,335.21 L140.00,335.26 L140.39,335.31 L140.77,335.36 L141.16,335.41 L141.54,335.46 L141.93,335.51 L142.32,335.56 L142.70,335.61 L143.09,335.66 L143.48,335.71 L143.86,335.76 L144.25,335.80 L144.63,335.85 L145.02,335.90 L145.41,335.95 L145.79,336.00 L146.18,336.04 L146.57,336.09 L146.95,336.14 L147.34,336.18 L147.72,336.23 L148.11,336.28 L148.50,336.32 L148.88,336.37 L149.27,336.41 L149.66,336.46 L150.04,336.50 L150.43,336.55 L150.81,336.60 L151.20,336.64 L151.59,336.69 L151.97,336.73 L152.36,336.78 L152.74,336.82 L153.13,336.87 L153.52,336.92 L153.90,336.96 L154.29,337.01 L154.68,337.06 L155.06,337.10 L155.45,337.15 L155.83,337.20 L156.22,337.25 L156.61,337.29 L156.99,337.34 L157.38,337.39 L157.77,337.43 L158.15,337.48 L158.54,337.53 L158.92,337.57 L159.31,337.62 L159.70,337.67 L160.08,337.71 L160.47,337.76 L160.86,337.81 L161.24,337.85 L161.63,337.90 L162.01,337.95 L162.40,337.99 L162.79,338.04 L163.17,338.08 L163.56,338.13 L163.94,338.17 L164.33,338.22 L164.72,338.26 L165.10,338.31 L165.49,338.35 L165.88,338.40 L166.26,338.44 L166.65,338.48 L167.03,338.53 L167.42,338.57 L167.81,338.61 L168.19,338.66 L168.58,338.70 L168.97,338.74 L169.35,338.78 L169.74,338.82 L170.12,338.86 L170.51,338.90 L170.90,338.94 L171.28,338.98 L171.67,339.02 L172.06,339.06 L172.44,339.10 L172.83,339.13 L173.21,339.17 L173.60,339.21 L173.99,339.24 L174.37,339.28 L174.76,339.31 L175.14,339.35 L175.53,339.38 L175.92,339.41 L176.30,339.45 L176.69,339.48 L177.08,339.51 L177.46,339.54 L177.85,339.57 L178.23,339.60 L178.62,339.63 L179.01,339.66 L179.39,339.68 L179.78,339.71 L180.17,339.74 L180.55,339.76 L180.94,339.79 L181.32,339.81 L181.71,339.83 L182.10,339.86 L182.48,339.88 L182.87,339.90 L183.26,339.92 L183.64,339.94 L184.03,339.96 L184.41,339.97 L184.80,339.99 L185.19,340.01 L185.57,340.02 L185.96,340.04 L186.34,340.06 L186.73,340.07 L187.12,340.09 L187.50,340.10 L187.89,340.12 L188.28,340.13 L188.66,340.15 L189.05,340.17 L189.43,340.18 L189.82,340.19 L190.21,340.21 L190.59,340.22 L190.98,340.24 L191.37,340.25 L191.75,340.26 L192.14,340.28 L192.52,340.29 L192.91,340.30 L193.30,340.31 L193.68,340.32 L194.07,340.33 L194.46,340.34 L194.84,340.35 L195.23,340.36 L195.61,340.37 L196.00,340.37 L196.39,340.38 L196.77,340.39 L197.16,340.39 L197.54,340.39 L197.93,340.40 L198.32,340.40 L198.70,340.40 L199.09,340.40 L199.48,340.40 L199.86,340.40 L200.25,340.40 L200.63,340.40 L201.02,340.40 L201.41,340.40 L201.79,340.40 L202.18,340.40 L202.57,340.39 L202.95,340.39 L203.34,340.39 L203.72,340.39 L204.11,340.39 L204.50,340.39 L204.88,340.39 L205.27,340.38 L205.66,340.38 L206.04,340.38 L206.43,340.38 L206.81,340.37 L207.20,340.37 L207.59,340.37 L207.97,340.37 L208.36,340.36 L208.74,340.36 L209.13,340.36 L209.52,340.36 L209.90,340.35 L210.29,340.35 L210.68,340.35 L211.06,340.34 L211.45,340.34 L211.83,340.34 L212.22,340.33 L212.61,340.33 L212.99,340.33 L213.38,340.32 L213.77,340.32 L214.15,340.32 L214.54,340.31 L214.92,340.31 L215.31,340.30 L215.70,340.30 L216.08,340.30 L216.47,340.29 L216.86,340.29 L217.24,340.28 L217.63,340.28 L218.01,340.27 L218.40,340.27 L218.79,340.27 L219.17,340.26 L219.56,340.26 L219.94,340.25 L220.33,340.25 L220.72,340.24 L221.10,340.24 L221.49,340.24 L221.88,340.23 L222.26,340.23 L222.65,340.22 L223.03,340.22 L223.42,340.21 L223.81,340.21 L224.19,340.20 L224.58,340.20 L224.97,340.19 L225.35,340.19 L225.74,340.19 L226.12,340.18 L226.51,340.18 L226.90,340.17 L227.28,340.17 L227.67,340.16 L228.06,340.16 L228.44,340.15 L228.83,340.15 L229.21,340.15 L229.60,340.14 L229.99,340.14 L230.37,340.13 L230.76,340.13 L231.14,340.12 L231.53,340.12 L231.92,340.12 L232.30,340.11 L232.69,340.11 L233.08,340.10 L233.46,340.10 L233.85,340.09 L234.23,340.09 L234.62,340.09 L235.01,340.08 L235.39,340.08 L235.78,340.08 L236.17,340.07 L236.55,340.07 L236.94,340.07 L237.32,340.06 L237.71,340.06 L238.10,340.06 L238.48,340.05 L238.87,340.05 L239.26,340.05 L239.64,340.04 L240.03,340.04 L240.41,340.04 L240.80,340.03 L241.19,340.03 L241.57,340.03 L241.96,340.03 L242.34,340.02 L242.73,340.02 L243.12,340.02 L243.50,340.02 L243.89,340.02 L244.28,340.01 L244.66,340.01 L245.05,340.01 L245.43,340.01 L245.82,340.01 L246.21,340.01 L246.59,340.01 L246.98,340.00 L247.37,340.00 L247.75,340.00 L248.14,340.00 L248.52,340.00 L248.91,340.00 L249.30,340.00 L249.68,340.00 L250.07,340.00 L250.46,340.00 L250.84,340.00 L251.23,340.00 L251.61,340.00 L252.00,340.00 L252.39,340.00 L252.77,340.00 L253.16,340.01 L253.54,340.01 L253.93,340.01 L254.32,340.01 L254.70,340.01 L255.09,340.01 L255.48,340.02 L255.86,340.02 L256.25,340.02 L256.63,340.02 L257.02,340.03 L257.41,340.03 L257.79,340.03 L258.18,340.03 L258.57,340.04 L258.95,340.04 L259.34,340.04 L259.72,340.05 L260.11,340.05 L260.50,340.06 L260.88,340.06 L261.27,340.06 L261.66,340.07 L262.04,340.07 L262.43,340.08 L262.81,340.08 L263.20,340.09 L263.59,340.09 L263.97,340.10 L264.36,340.10 L264.74,340.11 L265.13,340.11 L265.52,340.12 L265.90,340.12 L266.29,340.13 L266.68,340.14 L267.06,340.14 L267.45,340.15 L267.83,340.15 L268.22,340.16 L268.61,340.17 L268.99,340.17 L269.38,340.18 L269.77,340.19 L270.15,340.20 L270.54,340.20 L270.92,340.21 L271.31,340.22 L271.70,340.23 L272.08,340.23 L272.47,340.24 L272.86,340.25 L273.24,340.26 L273.63,340.27 L274.01,340.27 L274.40,340.28 L274.79,340.29 L275.17,340.30 L275.56,340.31 L275.94,340.32 L276.33,340.33 L276.72,340.33 L277.10,340.34 L277.49,340.35 L277.88,340.36 L278.26,340.37 L278.65,340.38 L279.03,340.39 L279.42,340.40 L279.81,340.41 L280.19,340.42 L280.58,340.43 L280.97,340.44 L281.35,340.45 L281.74,340.46 L282.12,340.47 L282.51,340.48 L282.90,340.49 L283.28,340.51 L283.67,340.52 L284.06,340.53 L284.44,340.54 L284.83,340.55 L285.21,340.56 L285.60,340.57 L285.99,340.58 L286.37,340.59 L286.76,340.61 L287.14,340.62 L287.53,340.63 L287.92,340.64 L288.30,340.65 L288.69,340.67 L289.08,340.68 L289.46,340.69 L289.85,340.70 L290.23,340.72 L290.62,340.73 L291.01,340.74 L291.39,340.75 L291.78,340.77 L292.17,340.78 L292.55,340.79 L292.94,340.80 L293.32,340.82 L293.71,340.83 L294.10,340.84 L294.48,340.86 L294.87,340.87 L295.26,340.88 L295.64,340.90 L296.03,340.91 L296.41,340.93 L296.80,340.94 L297.19,340.95 L297.57,340.97 L297.96,340.98 L298.34,340.99 L298.73,341.01 L299.12,341.02 L299.50,341.04 L299.89,341.05 L300.28,341.07 L300.66,341.08 L301.05,341.09 L301.43,341.11 L301.82,341.12 L302.21,341.14 L302.59,341.15 L302.98,341.17 L303.37,341.18 L303.75,341.20 L304.14,341.21 L304.52,341.23 L304.91,341.25 L305.30,341.27 L305.68,341.29 L306.07,341.31 L306.46,341.33 L306.84,341.35 L307.23,341.37 L307.61,341.40 L308.00,341.43 L308.39,341.45 L308.77,341.48 L309.16,341.51 L309.54,341.54 L309.93,341.57 L310.32,341.60 L310.70,341.63 L311.09,341.66 L311.48,341.70 L311.86,341.73 L312.25,341.77 L312.63,341.80 L313.02,341.84 L313.41,341.88 L313.79,341.92 L314.18,341.95 L314.57,341.99 L314.95,342.03 L315.34,342.08 L315.72,342.12 L316.11,342.16 L316.50,342.20 L316.88,342.25 L317.27,342.29 L317.66,342.33 L318.04,342.38 L318.43,342.43 L318.81,342.47 L319.20,342.52 L319.59,342.57 L319.97,342.61 L320.36,342.66 L320.74,342.71 L321.13,342.76 L321.52,342.81 L321.90,342.86 L322.29,342.91 L322.68,342.96 L323.06,343.01 L323.45,343.06 L323.83,343.11 L324.22,343.17 L324.61,343.22 L324.99,343.27 L325.38,343.32 L325.77,343.38 L326.15,343.43 L326.54,343.48 L326.92,343.54 L327.31,343.59 L327.70,343.65 L328.08,343.70 L328.47,343.76 L328.86,343.81 L329.24,343.87 L329.63,343.92 L330.01,343.97 L330.40,344.03 L330.79,344.08 L331.17,344.14 L331.56,344.20 L331.94,344.25 L332.33,344.31 L332.72,344.36 L333.10,344.42 L333.49,344.47 L333.88,344.53 L334.26,344.58 L334.65,344.63 L335.03,344.69 L335.42,344.74 L335.81,344.80 L336.19,344.85 L336.58,344.91 L336.97,344.96 L337.35,345.01 L337.74,345.07 L338.12,345.12 L338.51,345.17 L338.90,345.23 L339.28,345.28 L339.67,345.33 L340.06,345.38 L340.44,345.43 L340.83,345.48 L341.21,345.53 L341.60,345.58 L341.99,345.63 L342.37,345.68 L342.76,345.73 L343.14,345.78 L343.53,345.83 L343.92,345.88 L344.30,345.93 L344.69,345.97 L345.08,346.02 L345.46,346.07 L345.85,346.12 L346.23,346.17 L346.62,346.22 L347.01,346.27 L347.39,346.32 L347.78,346.37 L348.17,346.42 L348.55,346.48 L348.94,346.53 L349.32,346.58 L349.71,346.63 L350.10,346.68 L350.48,346.73 L350.87,346.78 L351.26,346.84 L351.64,346.89 L352.03,346.94 L352.41,346.99 L352.80,347.05 L353.19,347.10 L353.57,347.15 L353.96,347.20 L354.34,347.26 L354.73,347.31 L355.12,347.36 L355.50,347.42 L355.89,347.47 L356.28,347.52 L356.66,347.58 L357.05,347.63 L357.43,347.68 L357.82,347.74 L358.21,347.79 L358.59,347.84 L358.98,347.90 L359.37,347.95 L359.75,348.00 L360.14,348.06 L360.52,348.11 L360.91,348.16 L361.30,348.22 L361.68,348.27 L362.07,348.32 L362.46,348.38 L362.84,348.43 L363.23,348.48 L363.61,348.54 L364.00,348.59 L364.39,348.64 L364.77,348.69 L365.16,348.75 L365.54,348.80 L365.93,348.85 L366.32,348.90 L366.70,348.96 L367.09,349.01 L367.48,349.06 L367.86,349.11 L368.25,349.16 L368.63,349.22 L369.02,349.27 L369.41,349.32 L369.79,349.37 L370.18,349.42 L370.57,349.47 L370.95,349.52 L371.34,349.57 L371.72,349.62 L372.11,349.67 L372.50,349.72 L372.88,349.77 L373.27,349.82 L373.66,349.87 L374.04,349.92 L374.43,349.97 L374.81,350.02 L375.20,350.06 L375.59,350.11 L375.97,350.16 L376.36,350.21 L376.74,350.25 L377.13,350.30 L377.52,350.35 L377.90,350.39 L378.29,350.44 L378.68,350.49 L379.06,350.53 L379.45,350.58 L379.83,350.62 L380.22,350.67 L380.61,350.71 L380.99,350.76 L381.38,350.80 L381.77,350.85 L382.15,350.89 L382.54,350.94 L382.92,350.98 L383.31,351.03 L383.70,351.07 L384.08,351.11 L384.47,351.16 L384.86,351.20 L385.24,351.24 L385.63,351.29 L386.01,351.33 L386.40,351.37 L386.79,351.42 L387.17,351.46 L387.56,351.50 L387.94,351.54 L388.33,351.59 L388.72,351.63 L389.10,351.67 L389.49,351.71 L389.88,351.76 L390.26,351.80 L390.65,351.84 L391.03,351.88 L391.42,351.93 L391.81,351.97 L392.19,352.01 L392.58,352.05 L392.97,352.09 L393.35,352.14 L393.74,352.18 L394.12,352.22 L394.51,352.26 L394.90,352.30 L395.28,352.34 L395.67,352.39 L396.06,352.43 L396.44,352.47 L396.83,352.51 L397.21,352.55 L397.60,352.59 L397.99,352.64 L398.37,352.68 L398.76,352.72 L399.14,352.76 L399.53,352.80 L399.92,352.85 L400.30,352.89 L400.69,352.93 L401.08,352.97 L401.46,353.01 L401.85,353.06 L402.23,353.10 L402.62,353.14 L403.01,353.18 L403.39,353.23 L403.78,353.27 L404.17,353.31 L404.55,353.35 L404.94,353.40 L405.32,353.44 L405.71,353.48 L406.10,353.53 L406.48,353.57 L406.87,353.61 L407.26,353.66 L407.64,353.70 L408.03,353.74 L408.41,353.79 L408.80,353.83 L409.19,353.87 L409.57,353.92 L409.96,353.96 L410.34,354.01 L410.73,354.05 L411.12,354.10 L411.50,354.14 L411.89,354.19 L412.28,354.23 L412.66,354.28 L413.05,354.33 L413.43,354.37 L413.82,354.42 L414.21,354.46 L414.59,354.51 L414.98,354.56 L415.37,354.61 L415.75,354.65 L416.14,354.70 L416.52,354.75 L416.91,354.80 L417.30,354.84 L417.68,354.89 L418.07,354.94 L418.46,354.99 L418.84,355.04 L419.23,355.09 L419.61,355.14 L420.00,355.19 L420.39,355.24 L420.77,355.29 L421.16,355.34 L421.54,355.39 L421.93,355.44 L422.32,355.49 L422.70,355.54 L423.09,355.59 L423.48,355.64 L423.86,355.69 L424.25,355.74 L424.63,355.79 L425.02,355.84 L425.41,355.89 L425.79,355.94 L426.18,356.00 L426.57,356.05 L426.95,356.10 L427.34,356.15 L427.72,356.20 L428.11,356.25 L428.50,356.30 L428.88,356.35 L429.27,356.40 L429.66,356.46 L430.04,356.51 L430.43,356.56 L430.81,356.61 L431.20,356.66 L431.59,356.71 L431.97,356.76 L432.36,356.81 L432.74,356.86 L433.13,356.92 L433.52,356.97 L433.90,357.02 L434.29,357.07 L434.68,357.12 L435.06,357.17 L435.45,357.22 L435.83,357.27 L436.22,357.32 L436.61,357.37 L436.99,357.42 L437.38,357.47 L437.77,357.52 L438.15,357.57 L438.54,357.62 L438.92,357.66 L439.31,357.71 L439.70,357.76 L440.08,357.81 L440.47,357.86 L440.86,357.91 L441.24,357.95 L441.63,358.00 L442.01,358.05 L442.40,358.10 L442.79,358.15 L443.17,358.20 L443.56,358.24 L443.94,358.29 L444.33,358.34 L444.72,358.39 L445.10,358.43 L445.49,358.48 L445.88,358.53 L446.26,358.58 L446.65,358.62 L447.03,358.67 L447.42,358.72 L447.81,358.77 L448.19,358.81 L448.58,358.86 L448.97,358.91 L449.35,358.96 L449.74,359.00 L450.12,359.05 L450.51,359.10 L450.90,359.14 L451.28,359.19 L451.67,359.24 L452.06,359.28 L452.44,359.33 L452.83,359.38 L453.21,359.42 L453.60,359.47 L453.99,359.52 L454.37,359.56 L454.76,359.61 L455.14,359.66 L455.53,359.70 L455.92,359.75 L456.30,359.80 L456.69,359.84 L457.08,359.89 L457.46,359.93 L457.85,359.98 L458.23,360.03 L458.62,360.07 L459.01,360.12 L459.39,360.16 L459.78,360.21 L460.17,360.25 L460.55,360.30 L460.94,360.35 L461.32,360.39 L461.71,360.44 L462.10,360.48 L462.48,360.53 L462.87,360.57 L463.26,360.62 L463.64,360.66 L464.03,360.71 L464.41,360.75 L464.80,360.80" stroke="#f00" stroke-width="2.9" fill="none" stroke-dasharray="8 7.5" stroke-linejoin="round"/>
</g>

<rect x="60.25" y="14.25" width="399.95" height="55.650000000000006" fill="#fff" stroke="#000" stroke-width="1.55"/>
<line x1="63.9" y1="29.1" x2="103.3" y2="29.1" stroke="#fb5f08" stroke-width="2.7"/>
<line x1="63.9" y1="55.2" x2="103.3" y2="55.2" stroke="#0fa35a" stroke-width="2.7" stroke-dasharray="8 7.7"/>
<line x1="155.9" y1="29.1" x2="195.6" y2="29.1" stroke="#1070e0" stroke-width="2.7" stroke-dasharray="8.2 1.6 4.4 1.5"/>
<line x1="155.9" y1="55.2" x2="195.6" y2="55.2" stroke="#f00" stroke-width="2.7" stroke-dasharray="8.2 1.6 4.4 1.5"/>
<line x1="308.6" y1="29.1" x2="348" y2="29.1" stroke="#f00" stroke-width="2.7" stroke-dasharray="8 7.7"/>
<g fill="#000">
<text x="106.3" y="30.9">T<tspan dx="0.3" dy="8.0" font-size="11.6">0</tspan><tspan dx="0.9" dy="-8.0">=0</tspan></text>
<text x="106.3" y="56.9">T<tspan dx="0.3" dy="8.0" font-size="11.6">0</tspan><tspan dx="0.9" dy="-8.0">=20</tspan></text>
<text x="197.3" y="30.9">T<tspan dx="0.3" dy="8.0" font-size="11.6">0</tspan><tspan dx="0.9" dy="-8.0">=35</tspan></text>
<text x="198.4" y="61.0">Upper boundary</text>
<text x="350.8" y="34.8">Lower boundary</text>
</g>

<g fill="#363636">
<text x="47.60" y="386.0" text-anchor="middle">1000</text>
<text x="116.69" y="386.0" text-anchor="middle">2000</text>
<text x="185.77" y="386.0" text-anchor="middle">3000</text>
<text x="254.86" y="386.0" text-anchor="middle">4000</text>
<text x="323.94" y="386.0" text-anchor="middle">5000</text>
<text x="393.03" y="386.0" text-anchor="middle">6000</text>
<text x="462.11" y="386.0" text-anchor="middle">7000</text>
<text x="531.20" y="386.0" text-anchor="middle">8000</text>
<text x="41.7" y="371.50" text-anchor="end">0</text>
<text x="41.7" y="311.93" text-anchor="end">5</text>
<text x="41.7" y="252.37" text-anchor="end">10</text>
<text x="41.7" y="192.80" text-anchor="end">15</text>
<text x="41.7" y="133.23" text-anchor="end">20</text>
<text x="41.7" y="73.67" text-anchor="end">25</text>
<text x="41.7" y="14.10" text-anchor="end">30</text>
<text x="289.2" y="405.4" text-anchor="middle">Velocity (m/s)</text>
<text transform="translate(18.6,188.4) rotate(-90)" text-anchor="middle" letter-spacing="0.06">Drag acceleration (m/s<tspan dx="-0.8" dy="-9.0" font-size="11.6">2</tspan><tspan dx="0.9" dy="8.2">)</tspan></text>
</g>
</svg>
</body></html>
